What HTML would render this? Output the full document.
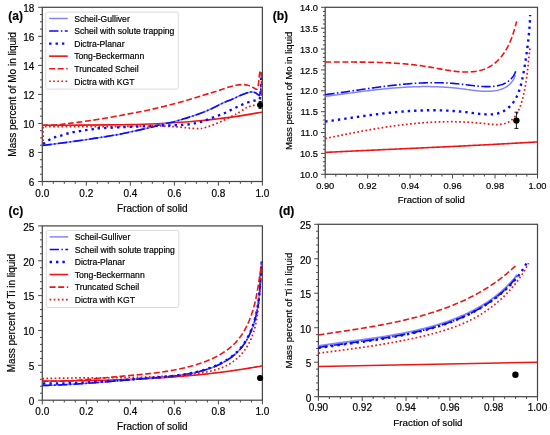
<!DOCTYPE html>
<html><head><meta charset="utf-8"><title>Solidification plots</title>
<style>html,body{margin:0;padding:0;background:#fff;}svg{display:block;filter:blur(0.4px);}text{font-family:"Liberation Sans",sans-serif;stroke:#000;stroke-width:0.18px;paint-order:fill;}</style>
</head><body>
<svg width="550" height="435" viewBox="0 0 550 435" font-family="Liberation Sans, sans-serif">
<rect width="550" height="435" fill="#fff"/>
<rect x="42.30" y="7.30" width="220.10" height="174.20" fill="none" stroke="#484848" stroke-width="1.25"/>
<path d="M42.30,181.50V185.70M86.32,181.50V185.70M130.34,181.50V185.70M174.36,181.50V185.70M218.38,181.50V185.70M262.40,181.50V185.70M53.30,181.50V183.80M64.31,181.50V183.80M75.31,181.50V183.80M97.32,181.50V183.80M108.33,181.50V183.80M119.33,181.50V183.80M141.34,181.50V183.80M152.35,181.50V183.80M163.35,181.50V183.80M185.36,181.50V183.80M196.37,181.50V183.80M207.38,181.50V183.80M229.38,181.50V183.80M240.39,181.50V183.80M251.39,181.50V183.80M42.30,181.50H38.10M42.30,152.47H38.10M42.30,123.43H38.10M42.30,94.40H38.10M42.30,65.37H38.10M42.30,36.33H38.10M42.30,7.30H38.10M42.30,174.24H40.00M42.30,166.98H40.00M42.30,159.72H40.00M42.30,145.21H40.00M42.30,137.95H40.00M42.30,130.69H40.00M42.30,116.17H40.00M42.30,108.92H40.00M42.30,101.66H40.00M42.30,87.14H40.00M42.30,79.88H40.00M42.30,72.62H40.00M42.30,58.11H40.00M42.30,50.85H40.00M42.30,43.59H40.00M42.30,29.08H40.00M42.30,21.82H40.00M42.30,14.56H40.00" stroke="#484848" stroke-width="1" fill="none"/>
<text x="42.30" y="196.60" font-size="10" text-anchor="middle" fill="#000">0.0</text>
<text x="86.32" y="196.60" font-size="10" text-anchor="middle" fill="#000">0.2</text>
<text x="130.34" y="196.60" font-size="10" text-anchor="middle" fill="#000">0.4</text>
<text x="174.36" y="196.60" font-size="10" text-anchor="middle" fill="#000">0.6</text>
<text x="218.38" y="196.60" font-size="10" text-anchor="middle" fill="#000">0.8</text>
<text x="262.40" y="196.60" font-size="10" text-anchor="middle" fill="#000">1.0</text>
<text x="34.30" y="186.30" font-size="10" text-anchor="end" fill="#000">6</text>
<text x="34.30" y="157.27" font-size="10" text-anchor="end" fill="#000">8</text>
<text x="34.30" y="128.23" font-size="10" text-anchor="end" fill="#000">10</text>
<text x="34.30" y="99.20" font-size="10" text-anchor="end" fill="#000">12</text>
<text x="34.30" y="70.17" font-size="10" text-anchor="end" fill="#000">14</text>
<text x="34.30" y="41.13" font-size="10" text-anchor="end" fill="#000">16</text>
<text x="34.30" y="12.10" font-size="10" text-anchor="end" fill="#000">18</text>
<text x="152.35" y="212.20" font-size="10" text-anchor="middle" fill="#000">Fraction of solid</text>
<text x="15.80" y="94.40" font-size="10" text-anchor="middle" fill="#000" transform="rotate(-90 15.80 94.40)">Mass percent of Mo in liquid</text>
<text x="8.30" y="20.00" font-size="12" text-anchor="start" font-weight="bold" fill="#000">(a)</text>
<rect x="325.20" y="7.30" width="212.30" height="167.00" fill="none" stroke="#484848" stroke-width="1.25"/>
<path d="M325.20,174.30V178.50M367.66,174.30V178.50M410.12,174.30V178.50M452.58,174.30V178.50M495.04,174.30V178.50M537.50,174.30V178.50M335.81,174.30V176.60M346.43,174.30V176.60M357.05,174.30V176.60M378.28,174.30V176.60M388.89,174.30V176.60M399.51,174.30V176.60M420.74,174.30V176.60M431.35,174.30V176.60M441.97,174.30V176.60M463.20,174.30V176.60M473.81,174.30V176.60M484.42,174.30V176.60M505.65,174.30V176.60M516.27,174.30V176.60M526.88,174.30V176.60M325.20,174.30H321.00M325.20,153.43H321.00M325.20,132.55H321.00M325.20,111.68H321.00M325.20,90.80H321.00M325.20,69.93H321.00M325.20,49.05H321.00M325.20,28.18H321.00M325.20,7.30H321.00M325.20,170.13H322.90M325.20,165.95H322.90M325.20,161.77H322.90M325.20,157.60H322.90M325.20,149.25H322.90M325.20,145.08H322.90M325.20,140.90H322.90M325.20,136.72H322.90M325.20,128.38H322.90M325.20,124.20H322.90M325.20,120.02H322.90M325.20,115.85H322.90M325.20,107.50H322.90M325.20,103.33H322.90M325.20,99.15H322.90M325.20,94.97H322.90M325.20,86.63H322.90M325.20,82.45H322.90M325.20,78.27H322.90M325.20,74.10H322.90M325.20,65.75H322.90M325.20,61.58H322.90M325.20,57.40H322.90M325.20,53.22H322.90M325.20,44.88H322.90M325.20,40.70H322.90M325.20,36.52H322.90M325.20,32.35H322.90M325.20,24.00H322.90M325.20,19.83H322.90M325.20,15.65H322.90M325.20,11.47H322.90" stroke="#484848" stroke-width="1" fill="none"/>
<text x="325.20" y="188.60" font-size="9.3" text-anchor="middle" fill="#000">0.90</text>
<text x="367.66" y="188.60" font-size="9.3" text-anchor="middle" fill="#000">0.92</text>
<text x="410.12" y="188.60" font-size="9.3" text-anchor="middle" fill="#000">0.94</text>
<text x="452.58" y="188.60" font-size="9.3" text-anchor="middle" fill="#000">0.96</text>
<text x="495.04" y="188.60" font-size="9.3" text-anchor="middle" fill="#000">0.98</text>
<text x="537.50" y="188.60" font-size="9.3" text-anchor="middle" fill="#000">1.00</text>
<text x="318.00" y="177.95" font-size="9.3" text-anchor="end" fill="#000">10.0</text>
<text x="318.00" y="157.07" font-size="9.3" text-anchor="end" fill="#000">10.5</text>
<text x="318.00" y="136.20" font-size="9.3" text-anchor="end" fill="#000">11.0</text>
<text x="318.00" y="115.32" font-size="9.3" text-anchor="end" fill="#000">11.5</text>
<text x="318.00" y="94.45" font-size="9.3" text-anchor="end" fill="#000">12.0</text>
<text x="318.00" y="73.57" font-size="9.3" text-anchor="end" fill="#000">12.5</text>
<text x="318.00" y="52.70" font-size="9.3" text-anchor="end" fill="#000">13.0</text>
<text x="318.00" y="31.82" font-size="9.3" text-anchor="end" fill="#000">13.5</text>
<text x="318.00" y="10.95" font-size="9.3" text-anchor="end" fill="#000">14.0</text>
<text x="431.35" y="203.00" font-size="9.5" text-anchor="middle" fill="#000">Fraction of solid</text>
<text x="291.90" y="90.80" font-size="9.5" text-anchor="middle" fill="#000" transform="rotate(-90 291.90 90.80)">Mass percent of Mo in liquid</text>
<text x="272.80" y="20.20" font-size="12" text-anchor="start" font-weight="bold" fill="#000">(b)</text>
<rect x="42.30" y="225.90" width="220.10" height="174.30" fill="none" stroke="#484848" stroke-width="1.25"/>
<path d="M42.30,400.20V404.40M86.32,400.20V404.40M130.34,400.20V404.40M174.36,400.20V404.40M218.38,400.20V404.40M262.40,400.20V404.40M53.30,400.20V402.50M64.31,400.20V402.50M75.31,400.20V402.50M97.32,400.20V402.50M108.33,400.20V402.50M119.33,400.20V402.50M141.34,400.20V402.50M152.35,400.20V402.50M163.35,400.20V402.50M185.36,400.20V402.50M196.37,400.20V402.50M207.38,400.20V402.50M229.38,400.20V402.50M240.39,400.20V402.50M251.39,400.20V402.50M42.30,400.20H38.10M42.30,365.34H38.10M42.30,330.48H38.10M42.30,295.62H38.10M42.30,260.76H38.10M42.30,225.90H38.10M42.30,393.23H40.00M42.30,386.26H40.00M42.30,379.28H40.00M42.30,372.31H40.00M42.30,358.37H40.00M42.30,351.40H40.00M42.30,344.42H40.00M42.30,337.45H40.00M42.30,323.51H40.00M42.30,316.54H40.00M42.30,309.56H40.00M42.30,302.59H40.00M42.30,288.65H40.00M42.30,281.68H40.00M42.30,274.70H40.00M42.30,267.73H40.00M42.30,253.79H40.00M42.30,246.82H40.00M42.30,239.84H40.00M42.30,232.87H40.00" stroke="#484848" stroke-width="1" fill="none"/>
<text x="42.30" y="414.60" font-size="10" text-anchor="middle" fill="#000">0.0</text>
<text x="86.32" y="414.60" font-size="10" text-anchor="middle" fill="#000">0.2</text>
<text x="130.34" y="414.60" font-size="10" text-anchor="middle" fill="#000">0.4</text>
<text x="174.36" y="414.60" font-size="10" text-anchor="middle" fill="#000">0.6</text>
<text x="218.38" y="414.60" font-size="10" text-anchor="middle" fill="#000">0.8</text>
<text x="262.40" y="414.60" font-size="10" text-anchor="middle" fill="#000">1.0</text>
<text x="34.30" y="405.00" font-size="10" text-anchor="end" fill="#000">0</text>
<text x="34.30" y="370.14" font-size="10" text-anchor="end" fill="#000">5</text>
<text x="34.30" y="335.28" font-size="10" text-anchor="end" fill="#000">10</text>
<text x="34.30" y="300.42" font-size="10" text-anchor="end" fill="#000">15</text>
<text x="34.30" y="265.56" font-size="10" text-anchor="end" fill="#000">20</text>
<text x="34.30" y="230.70" font-size="10" text-anchor="end" fill="#000">25</text>
<text x="152.35" y="429.60" font-size="10" text-anchor="middle" fill="#000">Fraction of solid</text>
<text x="15.30" y="313.05" font-size="10" text-anchor="middle" fill="#000" transform="rotate(-90 15.30 313.05)">Mass percent of Ti in liquid</text>
<text x="8.50" y="215.40" font-size="12" text-anchor="start" font-weight="bold" fill="#000">(c)</text>
<rect x="318.40" y="224.30" width="219.10" height="172.40" fill="none" stroke="#484848" stroke-width="1.25"/>
<path d="M318.40,396.70V400.90M362.22,396.70V400.90M406.04,396.70V400.90M449.86,396.70V400.90M493.68,396.70V400.90M537.50,396.70V400.90M329.35,396.70V399.00M340.31,396.70V399.00M351.26,396.70V399.00M373.18,396.70V399.00M384.13,396.70V399.00M395.09,396.70V399.00M417.00,396.70V399.00M427.95,396.70V399.00M438.91,396.70V399.00M460.82,396.70V399.00M471.77,396.70V399.00M482.72,396.70V399.00M504.63,396.70V399.00M515.59,396.70V399.00M526.54,396.70V399.00M318.40,396.70H314.20M318.40,362.22H314.20M318.40,327.74H314.20M318.40,293.26H314.20M318.40,258.78H314.20M318.40,224.30H314.20M318.40,389.80H316.10M318.40,382.91H316.10M318.40,376.01H316.10M318.40,369.12H316.10M318.40,355.32H316.10M318.40,348.43H316.10M318.40,341.53H316.10M318.40,334.64H316.10M318.40,320.84H316.10M318.40,313.95H316.10M318.40,307.05H316.10M318.40,300.16H316.10M318.40,286.36H316.10M318.40,279.47H316.10M318.40,272.57H316.10M318.40,265.68H316.10M318.40,251.88H316.10M318.40,244.99H316.10M318.40,238.09H316.10M318.40,231.20H316.10" stroke="#484848" stroke-width="1" fill="none"/>
<text x="318.40" y="411.00" font-size="10" text-anchor="middle" fill="#000">0.90</text>
<text x="362.22" y="411.00" font-size="10" text-anchor="middle" fill="#000">0.92</text>
<text x="406.04" y="411.00" font-size="10" text-anchor="middle" fill="#000">0.94</text>
<text x="449.86" y="411.00" font-size="10" text-anchor="middle" fill="#000">0.96</text>
<text x="493.68" y="411.00" font-size="10" text-anchor="middle" fill="#000">0.98</text>
<text x="537.50" y="411.00" font-size="10" text-anchor="middle" fill="#000">1.00</text>
<text x="311.20" y="401.50" font-size="10" text-anchor="end" fill="#000">0</text>
<text x="311.20" y="367.02" font-size="10" text-anchor="end" fill="#000">5</text>
<text x="311.20" y="332.54" font-size="10" text-anchor="end" fill="#000">10</text>
<text x="311.20" y="298.06" font-size="10" text-anchor="end" fill="#000">15</text>
<text x="311.20" y="263.58" font-size="10" text-anchor="end" fill="#000">20</text>
<text x="311.20" y="229.10" font-size="10" text-anchor="end" fill="#000">25</text>
<text x="427.95" y="426.00" font-size="9.8" text-anchor="middle" fill="#000">Fraction of solid</text>
<text x="291.90" y="310.50" font-size="9.8" text-anchor="middle" fill="#000" transform="rotate(-90 291.90 310.50)">Mass percent of Ti in liquid</text>
<text x="279.00" y="215.40" font-size="12" text-anchor="start" font-weight="bold" fill="#000">(d)</text>
<g clip-path="url(#ca)">
<path d="M42.30,125.30 C48.58,125.27 68.72,125.17 80.00,125.10 C91.28,125.03 101.67,124.98 110.00,124.90 C118.33,124.82 123.33,124.75 130.00,124.60 C136.67,124.45 144.17,124.22 150.00,124.00 C155.83,123.78 160.00,123.58 165.00,123.30 C170.00,123.02 174.17,122.73 180.00,122.30 C185.83,121.87 194.17,121.23 200.00,120.70 C205.83,120.17 209.17,119.78 215.00,119.10 C220.83,118.42 227.17,117.75 235.00,116.60 C242.83,115.45 257.50,112.93 262.00,112.20" fill="none" stroke="#f01414" stroke-width="1.6"/>
<path d="M42.30,145.50 C45.25,145.13 53.38,144.18 60.00,143.30 C66.62,142.42 75.33,141.15 82.00,140.20 C88.67,139.25 93.33,138.68 100.00,137.60 C106.67,136.52 113.67,135.37 122.00,133.70 C130.33,132.03 143.67,129.10 150.00,127.60 C156.33,126.10 156.33,125.58 160.00,124.70 C163.67,123.82 168.17,123.23 172.00,122.30 C175.83,121.37 179.75,120.08 183.00,119.10 C186.25,118.12 188.67,117.33 191.50,116.40 C194.33,115.47 196.67,114.78 200.00,113.50 C203.33,112.22 207.67,110.45 211.50,108.70 C215.33,106.95 219.55,104.58 223.00,103.00 C226.45,101.42 229.17,100.53 232.20,99.20 C235.23,97.87 238.90,96.00 241.20,95.00 C243.50,94.00 244.62,93.67 246.00,93.20 C247.38,92.73 248.42,92.42 249.50,92.20 C250.58,91.98 251.50,91.80 252.50,91.90 C253.50,92.00 254.58,92.35 255.50,92.80 C256.42,93.25 257.32,94.20 258.00,94.60 C258.68,95.00 259.17,95.80 259.60,95.20 C260.03,94.60 260.35,92.87 260.60,91.00 C260.85,89.13 261.02,85.17 261.10,84.00" fill="none" stroke="#8585f6" stroke-width="1.5"/>
<path d="M42.30,145.50 C45.25,145.13 53.38,144.18 60.00,143.30 C66.62,142.42 75.33,141.15 82.00,140.20 C88.67,139.25 93.33,138.68 100.00,137.60 C106.67,136.52 113.67,135.37 122.00,133.70 C130.33,132.03 143.67,129.10 150.00,127.60 C156.33,126.10 156.33,125.58 160.00,124.70 C163.67,123.82 168.17,123.23 172.00,122.30 C175.83,121.37 179.75,120.08 183.00,119.10 C186.25,118.12 188.67,117.33 191.50,116.40 C194.33,115.47 196.67,114.78 200.00,113.50 C203.33,112.22 207.67,110.45 211.50,108.70 C215.33,106.95 219.55,104.58 223.00,103.00 C226.45,101.42 229.17,100.53 232.20,99.20 C235.23,97.87 238.90,96.00 241.20,95.00 C243.50,94.00 244.62,93.67 246.00,93.20 C247.38,92.73 248.42,92.42 249.50,92.20 C250.58,91.98 251.50,91.80 252.50,91.90 C253.50,92.00 254.58,92.35 255.50,92.80 C256.42,93.25 257.32,94.20 258.00,94.60 C258.68,95.00 259.17,95.80 259.60,95.20 C260.03,94.60 260.35,92.87 260.60,91.00 C260.85,89.13 261.02,85.17 261.10,84.00" fill="none" stroke="#0a0aff" stroke-width="1.6" stroke-dasharray="9.4,2.4,1.5,2.4"/>
<path d="M43.20,141.00 C43.20,138.83 42.82,130.40 43.20,128.00 C43.58,125.60 36.03,126.82 45.50,126.60 C54.97,126.38 82.58,126.80 100.00,126.70 C117.42,126.60 140.00,126.15 150.00,126.00 C160.00,125.85 156.50,125.72 160.00,125.80 C163.50,125.88 167.93,126.30 171.00,126.50 C174.07,126.70 175.95,126.80 178.40,127.00 C180.85,127.20 183.55,127.48 185.70,127.70 C187.85,127.92 189.15,128.15 191.30,128.30 C193.45,128.45 196.65,128.63 198.60,128.60 C200.55,128.57 200.85,128.60 203.00,128.10 C205.15,127.60 208.17,126.85 211.50,125.60 C214.83,124.35 219.37,122.30 223.00,120.60 C226.63,118.90 230.82,116.65 233.30,115.40 C235.78,114.15 236.05,114.18 237.90,113.10 C239.75,112.02 242.70,109.90 244.40,108.90 C246.10,107.90 246.87,107.63 248.10,107.10 C249.33,106.57 250.57,106.02 251.80,105.70 C253.03,105.38 254.18,105.45 255.50,105.20 C256.82,104.95 258.78,104.90 259.70,104.20 C260.62,103.50 260.78,101.53 261.00,101.00" fill="none" stroke="#f01414" stroke-width="1.7" stroke-dasharray="1.7,2.4"/>
<path d="M43.00,144.00 C43.80,143.47 46.00,141.87 47.80,140.80 C49.60,139.73 51.80,138.42 53.80,137.60 C55.80,136.78 57.73,136.52 59.80,135.90 C61.87,135.28 64.07,134.50 66.20,133.90 C68.33,133.30 70.45,132.73 72.60,132.30 C74.75,131.87 76.92,131.67 79.10,131.30 C81.28,130.93 83.50,130.43 85.70,130.10 C87.90,129.77 90.15,129.60 92.30,129.30 C94.45,129.00 93.15,128.67 98.60,128.30 C104.05,127.93 115.63,127.50 125.00,127.10 C134.37,126.70 145.80,126.25 154.80,125.90 C163.80,125.55 172.98,125.30 179.00,125.00 C185.02,124.70 187.87,124.48 190.90,124.10 C193.93,123.72 195.08,123.18 197.20,122.70 C199.32,122.22 201.48,121.88 203.60,121.20 C205.72,120.52 207.80,119.42 209.90,118.60 C212.00,117.78 214.10,117.05 216.20,116.30 C218.30,115.55 220.48,114.93 222.50,114.10 C224.52,113.27 226.27,112.30 228.30,111.30 C230.33,110.30 232.68,109.07 234.70,108.10 C236.72,107.13 238.38,106.38 240.40,105.50 C242.42,104.62 244.80,103.52 246.80,102.80 C248.80,102.08 250.80,101.65 252.40,101.20 C254.00,100.75 255.23,100.43 256.40,100.10 C257.57,99.77 258.70,100.22 259.40,99.20 C260.10,98.18 260.33,96.20 260.60,94.00 C260.87,91.80 260.92,88.67 261.00,86.00 C261.08,83.33 261.07,80.25 261.10,78.00 C261.13,75.75 261.18,73.42 261.20,72.50" fill="none" stroke="#0a0aff" stroke-width="2.4" stroke-dasharray="2.4,4.0"/>
<path d="M42.30,125.20 C44.42,125.17 51.22,125.22 55.00,125.00 C58.78,124.78 61.33,124.33 65.00,123.90 C68.67,123.47 71.62,123.13 77.00,122.40 C82.38,121.67 89.30,120.80 97.30,119.50 C105.30,118.20 116.22,116.23 125.00,114.60 C133.78,112.97 140.83,111.77 150.00,109.70 C159.17,107.63 171.17,104.60 180.00,102.20 C188.83,99.80 196.67,97.22 203.00,95.30 C209.33,93.38 213.67,92.08 218.00,90.70 C222.33,89.32 226.00,87.90 229.00,87.00 C232.00,86.10 233.83,85.70 236.00,85.30 C238.17,84.90 240.17,84.65 242.00,84.60 C243.83,84.55 245.50,84.68 247.00,85.00 C248.50,85.32 249.75,85.95 251.00,86.50 C252.25,87.05 253.53,87.85 254.50,88.30 C255.47,88.75 256.18,89.58 256.80,89.20 C257.42,88.82 257.83,87.87 258.20,86.00 C258.57,84.13 258.70,80.37 259.00,78.00 C259.30,75.63 259.68,72.88 260.00,71.80 C260.32,70.72 260.67,70.47 260.90,71.50 C261.13,72.53 261.30,75.25 261.40,78.00 C261.50,80.75 261.48,84.67 261.50,88.00 C261.52,91.33 261.50,96.33 261.50,98.00" fill="none" stroke="#f01414" stroke-width="1.6" stroke-dasharray="6,2.6"/>
</g>
<path d="M260.1,101.6V108.4M258.6,101.6H261.6M258.6,108.4H261.6" stroke="#000" stroke-width="0.9"/>
<circle cx="260.1" cy="105" r="3.0" fill="#000"/>
<path d="M325.20,152.40 L326.41,152.34 L327.61,152.28 L328.82,152.22 L330.03,152.16 L331.23,152.10 L332.44,152.05 L333.64,151.99 L334.85,151.93 L336.06,151.87 L337.26,151.81 L338.47,151.75 L339.68,151.70 L340.88,151.64 L342.09,151.58 L343.29,151.52 L344.50,151.47 L345.71,151.41 L346.91,151.35 L348.12,151.29 L349.33,151.24 L350.53,151.18 L351.74,151.12 L352.95,151.07 L354.15,151.01 L355.36,150.95 L356.56,150.90 L357.77,150.84 L358.98,150.78 L360.18,150.73 L361.39,150.67 L362.60,150.62 L363.80,150.56 L365.01,150.50 L366.22,150.45 L367.42,150.39 L368.63,150.34 L369.84,150.28 L371.04,150.23 L372.25,150.17 L373.46,150.11 L374.66,150.06 L375.87,150.00 L377.07,149.95 L378.28,149.89 L379.49,149.84 L380.69,149.78 L381.90,149.73 L383.11,149.67 L384.31,149.62 L385.52,149.56 L386.73,149.51 L387.93,149.45 L389.14,149.40 L390.35,149.34 L391.55,149.29 L392.76,149.23 L393.97,149.18 L395.17,149.12 L396.38,149.07 L397.58,149.01 L398.79,148.96 L400.00,148.90 L401.20,148.85 L402.41,148.79 L403.62,148.73 L404.82,148.68 L406.03,148.62 L407.24,148.57 L408.44,148.51 L409.65,148.46 L410.86,148.40 L412.06,148.35 L413.27,148.29 L414.48,148.24 L415.68,148.18 L416.89,148.13 L418.09,148.07 L419.30,148.02 L420.51,147.96 L421.71,147.90 L422.92,147.85 L424.13,147.79 L425.33,147.74 L426.54,147.68 L427.75,147.63 L428.95,147.57 L430.16,147.51 L431.37,147.46 L432.57,147.40 L433.78,147.34 L434.98,147.29 L436.19,147.23 L437.40,147.17 L438.60,147.12 L439.81,147.06 L441.02,147.00 L442.22,146.95 L443.43,146.89 L444.64,146.83 L445.84,146.78 L447.05,146.72 L448.26,146.66 L449.46,146.60 L450.67,146.54 L451.87,146.49 L453.08,146.43 L454.29,146.37 L455.49,146.31 L456.70,146.25 L457.91,146.20 L459.11,146.14 L460.32,146.08 L461.52,146.02 L462.73,145.96 L463.94,145.90 L465.14,145.84 L466.35,145.78 L467.56,145.72 L468.76,145.66 L469.97,145.60 L471.17,145.54 L472.38,145.48 L473.59,145.42 L474.79,145.36 L476.00,145.30 L477.21,145.24 L478.41,145.18 L479.62,145.12 L480.82,145.05 L482.03,144.99 L483.24,144.93 L484.44,144.87 L485.65,144.80 L486.85,144.74 L488.06,144.68 L489.27,144.62 L490.47,144.55 L491.68,144.49 L492.88,144.43 L494.09,144.36 L495.30,144.30 L496.50,144.23 L497.71,144.17 L498.92,144.11 L500.12,144.04 L501.33,143.97 L502.53,143.91 L503.74,143.84 L504.94,143.78 L506.15,143.71 L507.36,143.65 L508.56,143.58 L509.77,143.51 L510.97,143.45 L512.18,143.38 L513.39,143.31 L514.59,143.24 L515.80,143.17 L517.00,143.11 L518.21,143.04 L519.42,142.97 L520.62,142.90 L521.83,142.83 L523.03,142.76 L524.24,142.69 L525.44,142.62 L526.65,142.55 L527.86,142.48 L529.06,142.41 L530.27,142.34 L531.47,142.26 L532.68,142.19 L533.88,142.12 L535.09,142.05 L536.29,141.97 L537.50,141.90" fill="none" stroke="#f01414" stroke-width="1.6"/>
<path d="M325.20,96.40 L326.41,96.24 L327.62,96.08 L328.83,95.91 L330.04,95.75 L331.25,95.59 L332.46,95.42 L333.67,95.26 L334.88,95.09 L336.09,94.93 L337.30,94.76 L338.50,94.60 L339.71,94.43 L340.92,94.27 L342.12,94.10 L343.33,93.94 L344.53,93.78 L345.74,93.61 L346.94,93.45 L348.15,93.28 L349.35,93.12 L350.56,92.96 L351.76,92.80 L352.96,92.64 L354.17,92.48 L355.37,92.32 L356.57,92.16 L357.78,92.00 L358.98,91.85 L360.18,91.69 L361.38,91.54 L362.59,91.38 L363.79,91.23 L364.99,91.08 L366.19,90.93 L367.39,90.78 L368.59,90.64 L369.79,90.49 L371.00,90.35 L372.20,90.21 L373.40,90.07 L374.60,89.93 L375.80,89.79 L377.00,89.66 L378.20,89.53 L379.40,89.40 L380.60,89.27 L381.81,89.14 L383.01,89.02 L384.21,88.90 L385.41,88.78 L386.61,88.66 L387.81,88.55 L389.01,88.44 L390.22,88.33 L391.42,88.22 L392.62,88.12 L393.82,88.02 L395.02,87.92 L396.23,87.83 L397.43,87.73 L398.63,87.65 L399.83,87.56 L401.04,87.48 L402.24,87.40 L403.45,87.32 L404.65,87.25 L405.85,87.18 L407.06,87.12 L408.26,87.05 L409.47,86.99 L410.67,86.94 L411.88,86.89 L413.09,86.84 L414.29,86.80 L415.50,86.76 L416.71,86.72 L417.92,86.69 L419.12,86.66 L420.33,86.64 L421.54,86.62 L422.75,86.61 L423.96,86.60 L425.17,86.59 L426.38,86.59 L427.59,86.59 L428.81,86.60 L430.02,86.62 L431.23,86.63 L432.44,86.65 L433.66,86.68 L434.87,86.71 L436.09,86.75 L437.30,86.79 L438.52,86.84 L439.74,86.89 L440.96,86.95 L442.17,87.01 L443.39,87.08 L444.61,87.15 L445.83,87.23 L447.05,87.32 L448.28,87.41 L449.50,87.50 L450.72,87.61 L451.95,87.71 L453.17,87.83 L454.40,87.95 L455.62,88.07 L456.85,88.20 L458.08,88.34 L459.30,88.48 L460.53,88.63 L461.76,88.79 L462.99,88.95 L464.23,89.11 L465.46,89.28 L466.69,89.45 L467.92,89.62 L469.15,89.79 L470.38,89.96 L471.61,90.12 L472.84,90.27 L474.06,90.43 L475.29,90.57 L476.51,90.70 L477.73,90.83 L478.95,90.94 L480.17,91.04 L481.38,91.13 L482.59,91.20 L483.80,91.26 L485.01,91.29 L486.21,91.31 L487.40,91.31 L488.60,91.29 L489.79,91.24 L490.97,91.17 L492.15,91.07 L493.32,90.95 L494.49,90.80 L495.66,90.62 L496.81,90.41 L497.96,90.16 L499.09,89.88 L500.21,89.56 L501.31,89.21 L502.39,88.81 L503.45,88.36 L504.49,87.87 L505.51,87.34 L506.50,86.75 L507.45,86.11 L508.38,85.42 L509.27,84.67 L510.12,83.87 L510.93,83.00 L511.69,82.07 L512.41,81.08 L513.08,80.03 L513.70,78.90 L514.26,77.71 L514.77,76.44 L515.21,75.10" fill="none" stroke="#8585f6" stroke-width="1.5"/>
<path d="M325.20,94.60 L326.41,94.45 L327.62,94.30 L328.83,94.15 L330.03,94.00 L331.24,93.84 L332.45,93.68 L333.66,93.52 L334.86,93.36 L336.07,93.20 L337.27,93.03 L338.48,92.87 L339.68,92.70 L340.89,92.53 L342.09,92.36 L343.30,92.19 L344.50,92.02 L345.70,91.85 L346.91,91.68 L348.11,91.50 L349.31,91.33 L350.52,91.16 L351.72,90.98 L352.92,90.81 L354.12,90.63 L355.32,90.45 L356.52,90.28 L357.73,90.10 L358.93,89.93 L360.13,89.75 L361.33,89.58 L362.53,89.40 L363.73,89.23 L364.93,89.05 L366.13,88.88 L367.33,88.71 L368.53,88.54 L369.73,88.36 L370.93,88.19 L372.13,88.02 L373.33,87.86 L374.53,87.69 L375.73,87.52 L376.93,87.36 L378.13,87.20 L379.33,87.04 L380.53,86.88 L381.73,86.72 L382.93,86.56 L384.13,86.41 L385.33,86.25 L386.53,86.10 L387.73,85.95 L388.93,85.81 L390.13,85.66 L391.33,85.52 L392.53,85.38 L393.73,85.25 L394.93,85.11 L396.14,84.98 L397.34,84.85 L398.54,84.73 L399.74,84.60 L400.94,84.48 L402.15,84.37 L403.35,84.25 L404.55,84.14 L405.76,84.04 L406.96,83.93 L408.16,83.83 L409.37,83.74 L410.57,83.64 L411.78,83.55 L412.98,83.47 L414.19,83.39 L415.39,83.31 L416.60,83.24 L417.81,83.17 L419.01,83.11 L420.22,83.05 L421.43,82.99 L422.64,82.94 L423.85,82.89 L425.06,82.85 L426.27,82.81 L427.48,82.78 L428.69,82.75 L429.90,82.73 L431.11,82.71 L432.32,82.70 L433.54,82.70 L434.75,82.69 L435.96,82.70 L437.18,82.71 L438.39,82.72 L439.61,82.75 L440.83,82.77 L442.04,82.81 L443.26,82.84 L444.48,82.89 L445.70,82.94 L446.92,83.00 L448.14,83.06 L449.36,83.13 L450.58,83.21 L451.80,83.29 L453.03,83.38 L454.25,83.48 L455.47,83.58 L456.70,83.69 L457.92,83.80 L459.15,83.93 L460.38,84.06 L461.61,84.20 L462.84,84.34 L464.07,84.49 L465.30,84.65 L466.53,84.80 L467.76,84.96 L468.99,85.12 L470.21,85.27 L471.44,85.43 L472.67,85.58 L473.89,85.72 L475.12,85.86 L476.34,85.99 L477.56,86.11 L478.78,86.23 L480.00,86.33 L481.21,86.42 L482.42,86.49 L483.63,86.55 L484.84,86.60 L486.04,86.62 L487.24,86.63 L488.43,86.62 L489.62,86.58 L490.81,86.53 L491.99,86.45 L493.17,86.34 L494.34,86.21 L495.51,86.05 L496.67,85.86 L497.82,85.64 L498.96,85.38 L500.09,85.09 L501.20,84.76 L502.29,84.39 L503.37,83.98 L504.42,83.52 L505.46,83.02 L506.46,82.47 L507.44,81.87 L508.39,81.22 L509.31,80.51 L510.19,79.74 L511.03,78.92 L511.83,78.04 L512.59,77.10 L513.30,76.09 L513.97,75.01 L514.59,73.87 L515.15,72.65 L515.66,71.36 L516.11,70.00" fill="none" stroke="#0a0aff" stroke-width="1.6" stroke-dasharray="9.4,2.4,1.5,2.4"/>
<path d="M325.19,138.50 L326.39,138.25 L327.58,138.01 L328.78,137.76 L329.97,137.52 L331.17,137.27 L332.36,137.03 L333.55,136.78 L334.75,136.54 L335.94,136.30 L337.13,136.05 L338.32,135.81 L339.51,135.57 L340.70,135.33 L341.89,135.09 L343.08,134.85 L344.27,134.62 L345.46,134.38 L346.65,134.14 L347.84,133.91 L349.03,133.67 L350.22,133.44 L351.41,133.21 L352.59,132.98 L353.78,132.75 L354.97,132.52 L356.16,132.29 L357.34,132.07 L358.53,131.84 L359.72,131.62 L360.90,131.40 L362.09,131.18 L363.28,130.96 L364.46,130.74 L365.65,130.52 L366.84,130.31 L368.02,130.10 L369.21,129.89 L370.39,129.68 L371.58,129.47 L372.77,129.26 L373.95,129.06 L375.14,128.86 L376.33,128.66 L377.51,128.46 L378.70,128.27 L379.88,128.07 L381.07,127.88 L382.26,127.69 L383.44,127.50 L384.63,127.32 L385.82,127.14 L387.01,126.95 L388.19,126.78 L389.38,126.60 L390.57,126.43 L391.76,126.26 L392.94,126.09 L394.13,125.92 L395.32,125.76 L396.51,125.60 L397.70,125.44 L398.89,125.28 L400.08,125.13 L401.27,124.98 L402.46,124.83 L403.65,124.69 L404.84,124.55 L406.03,124.41 L407.23,124.27 L408.42,124.14 L409.61,124.01 L410.80,123.89 L412.00,123.76 L413.19,123.64 L414.39,123.53 L415.58,123.41 L416.78,123.30 L417.97,123.20 L419.17,123.09 L420.36,122.99 L421.56,122.90 L422.76,122.80 L423.96,122.71 L425.16,122.63 L426.36,122.54 L427.56,122.47 L428.76,122.39 L429.96,122.32 L431.16,122.25 L432.37,122.19 L433.57,122.13 L434.77,122.07 L435.98,122.02 L437.18,121.97 L438.39,121.93 L439.60,121.89 L440.81,121.85 L442.01,121.82 L443.22,121.79 L444.43,121.77 L445.64,121.75 L446.86,121.74 L448.07,121.73 L449.28,121.72 L450.50,121.72 L451.71,121.72 L452.93,121.73 L454.14,121.74 L455.36,121.76 L456.58,121.78 L457.80,121.81 L459.02,121.84 L460.24,121.87 L461.46,121.91 L462.69,121.96 L463.91,122.01 L465.14,122.06 L466.36,122.12 L467.59,122.19 L468.82,122.26 L470.05,122.33 L471.28,122.41 L472.51,122.50 L473.74,122.59 L474.98,122.68 L476.21,122.78 L477.45,122.89 L478.69,123.00 L479.92,123.12 L481.16,123.24 L482.41,123.37 L483.65,123.50 L484.89,123.64 L486.13,123.78 L487.37,123.91 L488.61,124.05 L489.85,124.17 L491.08,124.28 L492.30,124.38 L493.52,124.46 L494.72,124.51 L495.92,124.54 L497.11,124.55 L498.29,124.52 L499.45,124.45 L500.59,124.35 L501.73,124.21 L502.84,124.02 L503.94,123.78 L505.02,123.49 L506.07,123.14 L507.11,122.74 L508.12,122.27 L509.11,121.75 L510.07,121.15 L511.00,120.50 L511.90,119.78 L512.76,119.01 L513.57,118.19 L514.34,117.32 L515.08,116.40 L515.77,115.44 L516.43,114.43 L517.05,113.39 L517.64,112.32 L518.20,111.22 L518.72,110.09 L519.22,108.94 L519.70,107.76 L520.14,106.57 L520.57,105.37 L520.97,104.16 L521.36,102.94 L521.72,101.71 L522.08,100.49 L522.41,99.27 L522.73,98.05 L523.04,96.84 L523.34,95.64 L523.63,94.43 L523.90,93.23 L524.16,92.04 L524.42,90.85 L524.66,89.66 L524.89,88.47 L525.11,87.28 L525.32,86.10 L525.53,84.92 L525.72,83.74 L525.91,82.57 L526.09,81.39 L526.27,80.22 L526.43,79.04 L526.60,77.87 L526.75,76.69 L526.90,75.52 L527.05,74.35 L527.19,73.17 L527.33,72.00 L527.47,70.82 L527.60,69.65 L527.73,68.47 L527.86,67.29 L527.99,66.11 L528.11,64.92 L528.24,63.74 L528.36,62.55 L528.49,61.36 L528.61,60.16 L528.74,58.97 L528.87,57.76 L529.00,56.56 L529.13,55.35 L529.27,54.14 L529.41,52.92 L529.55,51.70 L529.70,50.47 L529.85,49.24 L530.01,48.00" fill="none" stroke="#f01414" stroke-width="1.7" stroke-dasharray="1.7,2.4"/>
<path d="M325.20,121.60 L326.38,121.43 L327.56,121.26 L328.74,121.09 L329.92,120.92 L331.11,120.75 L332.29,120.58 L333.48,120.41 L334.67,120.23 L335.86,120.06 L337.05,119.88 L338.24,119.71 L339.43,119.53 L340.63,119.36 L341.82,119.18 L343.02,119.00 L344.21,118.83 L345.41,118.65 L346.61,118.47 L347.81,118.30 L349.01,118.12 L350.21,117.94 L351.41,117.77 L352.62,117.59 L353.82,117.42 L355.02,117.24 L356.23,117.07 L357.43,116.90 L358.64,116.72 L359.85,116.55 L361.05,116.38 L362.26,116.21 L363.47,116.04 L364.67,115.87 L365.88,115.71 L367.09,115.54 L368.30,115.38 L369.51,115.21 L370.72,115.05 L371.93,114.89 L373.14,114.73 L374.34,114.58 L375.55,114.42 L376.76,114.27 L377.97,114.12 L379.18,113.97 L380.39,113.82 L381.60,113.67 L382.80,113.53 L384.01,113.39 L385.22,113.25 L386.43,113.11 L387.63,112.98 L388.84,112.85 L390.04,112.72 L391.25,112.59 L392.45,112.47 L393.66,112.35 L394.86,112.23 L396.06,112.11 L397.27,112.00 L398.47,111.89 L399.67,111.79 L400.87,111.68 L402.06,111.58 L403.26,111.49 L404.46,111.39 L405.66,111.30 L406.85,111.22 L408.05,111.14 L409.24,111.06 L410.43,110.98 L411.63,110.91 L412.82,110.84 L414.01,110.78 L415.21,110.71 L416.40,110.66 L417.59,110.60 L418.78,110.55 L419.98,110.51 L421.17,110.47 L422.36,110.43 L423.55,110.40 L424.74,110.37 L425.94,110.34 L427.13,110.32 L428.33,110.30 L429.52,110.29 L430.71,110.28 L431.91,110.28 L433.11,110.28 L434.30,110.29 L435.50,110.30 L436.70,110.31 L437.90,110.33 L439.10,110.35 L440.30,110.38 L441.50,110.41 L442.70,110.45 L443.91,110.49 L445.11,110.54 L446.32,110.59 L447.53,110.65 L448.74,110.71 L449.95,110.78 L451.16,110.85 L452.37,110.93 L453.59,111.01 L454.81,111.10 L456.03,111.20 L457.25,111.29 L458.47,111.40 L459.69,111.51 L460.92,111.62 L462.15,111.74 L463.38,111.87 L464.61,112.00 L465.85,112.14 L467.08,112.28 L468.32,112.43 L469.57,112.58 L470.81,112.74 L472.06,112.91 L473.30,113.08 L474.55,113.24 L475.80,113.41 L477.05,113.57 L478.29,113.72 L479.53,113.87 L480.77,114.01 L482.01,114.13 L483.24,114.24 L484.46,114.32 L485.68,114.39 L486.89,114.44 L488.09,114.47 L489.28,114.47 L490.47,114.44 L491.64,114.37 L492.80,114.28 L493.95,114.15 L495.09,113.99 L496.21,113.78 L497.32,113.53 L498.41,113.24 L499.49,112.91 L500.55,112.52 L501.60,112.09 L502.62,111.61 L503.63,111.08 L504.61,110.50 L505.58,109.88 L506.52,109.22 L507.43,108.52 L508.32,107.78 L509.19,107.01 L510.03,106.20 L510.84,105.35 L511.62,104.47 L512.38,103.56 L513.10,102.62 L513.79,101.66 L514.45,100.66 L515.07,99.64 L515.67,98.60 L516.24,97.54 L516.79,96.45 L517.31,95.35 L517.80,94.22 L518.27,93.08 L518.72,91.93 L519.14,90.76 L519.55,89.57 L519.93,88.38 L520.30,87.17 L520.65,85.95 L520.98,84.73 L521.30,83.50 L521.60,82.27 L521.89,81.03 L522.16,79.78 L522.43,78.54 L522.68,77.30 L522.93,76.06 L523.17,74.82 L523.40,73.58 L523.62,72.36 L523.84,71.13 L524.06,69.92 L524.27,68.71 L524.47,67.50 L524.67,66.30 L524.87,65.10 L525.06,63.91 L525.25,62.73 L525.44,61.54 L525.62,60.36 L525.79,59.18 L525.97,58.00 L526.14,56.83 L526.31,55.65 L526.48,54.48 L526.64,53.31 L526.80,52.13 L526.96,50.96 L527.12,49.79 L527.27,48.61 L527.42,47.44 L527.57,46.26 L527.72,45.08 L527.86,43.91 L528.00,42.73 L528.14,41.55 L528.27,40.37 L528.41,39.18 L528.53,38.00 L528.66,36.81 L528.78,35.62 L528.89,34.43 L529.01,33.24 L529.12,32.04 L529.22,30.85 L529.32,29.65 L529.42,28.44 L529.51,27.24 L529.60,26.03 L529.69,24.82 L529.77,23.60 L529.84,22.39 L529.92,21.16 L529.98,19.94 L530.04,18.71 L530.10,17.48 L530.15,16.24 L530.20,15.00" fill="none" stroke="#0a0aff" stroke-width="2.4" stroke-dasharray="2.4,4.0"/>
<path d="M325.20,62.00 L326.43,62.01 L327.65,62.01 L328.88,62.02 L330.10,62.02 L331.33,62.03 L332.55,62.03 L333.77,62.03 L334.99,62.04 L336.21,62.04 L337.43,62.04 L338.64,62.04 L339.86,62.04 L341.08,62.05 L342.29,62.05 L343.50,62.05 L344.72,62.05 L345.93,62.05 L347.14,62.05 L348.35,62.05 L349.56,62.06 L350.77,62.06 L351.98,62.06 L353.18,62.07 L354.39,62.07 L355.60,62.08 L356.80,62.08 L358.01,62.09 L359.21,62.10 L360.42,62.11 L361.62,62.12 L362.82,62.13 L364.03,62.14 L365.23,62.16 L366.43,62.17 L367.63,62.19 L368.83,62.21 L370.03,62.23 L371.23,62.25 L372.43,62.28 L373.63,62.30 L374.83,62.33 L376.03,62.36 L377.23,62.39 L378.43,62.43 L379.63,62.47 L380.82,62.51 L382.02,62.55 L383.22,62.59 L384.42,62.64 L385.61,62.69 L386.81,62.74 L388.01,62.80 L389.21,62.86 L390.41,62.92 L391.60,62.98 L392.80,63.05 L394.00,63.12 L395.20,63.19 L396.40,63.27 L397.59,63.35 L398.79,63.44 L399.99,63.53 L401.19,63.62 L402.39,63.71 L403.59,63.81 L404.79,63.92 L405.99,64.02 L407.19,64.14 L408.39,64.25 L409.59,64.37 L410.79,64.50 L411.99,64.63 L413.20,64.76 L414.40,64.90 L415.60,65.04 L416.81,65.19 L418.01,65.34 L419.22,65.49 L420.42,65.66 L421.63,65.82 L422.83,65.99 L424.04,66.17 L425.25,66.35 L426.46,66.54 L427.67,66.73 L428.88,66.93 L430.09,67.13 L431.30,67.34 L432.51,67.56 L433.73,67.77 L434.94,68.00 L436.16,68.22 L437.37,68.44 L438.59,68.67 L439.80,68.89 L441.02,69.11 L442.24,69.33 L443.45,69.55 L444.67,69.76 L445.89,69.97 L447.11,70.18 L448.32,70.37 L449.54,70.57 L450.76,70.75 L451.98,70.92 L453.19,71.08 L454.41,71.24 L455.63,71.38 L456.84,71.51 L458.06,71.63 L459.28,71.73 L460.49,71.82 L461.71,71.89 L462.92,71.95 L464.14,71.99 L465.35,72.01 L466.56,72.01 L467.77,71.99 L468.98,71.95 L470.19,71.90 L471.40,71.81 L472.60,71.71 L473.80,71.58 L474.99,71.43 L476.17,71.25 L477.34,71.04 L478.51,70.81 L479.67,70.55 L480.81,70.26 L481.94,69.94 L483.06,69.59 L484.17,69.21 L485.26,68.79 L486.34,68.35 L487.39,67.86 L488.43,67.35 L489.46,66.80 L490.46,66.21 L491.45,65.60 L492.41,64.95 L493.36,64.27 L494.29,63.56 L495.20,62.82 L496.09,62.05 L496.97,61.26 L497.82,60.44 L498.66,59.59 L499.48,58.72 L500.27,57.83 L501.05,56.91 L501.81,55.97 L502.55,55.01 L503.27,54.03 L503.98,53.03 L504.66,52.02 L505.32,50.98 L505.96,49.93 L506.59,48.86 L507.19,47.78 L507.78,46.69 L508.34,45.58 L508.89,44.46 L509.41,43.33 L509.92,42.19 L510.41,41.04 L510.89,39.88 L511.34,38.72 L511.79,37.55 L512.21,36.38 L512.62,35.21 L513.02,34.04 L513.40,32.87 L513.77,31.70 L514.13,30.53 L514.47,29.36 L514.81,28.20 L515.13,27.04 L515.44,25.90 L515.74,24.76 L516.03,23.63 L516.32,22.51 L516.59,21.40" fill="none" stroke="#f01414" stroke-width="1.6" stroke-dasharray="6,2.6"/>
<path d="M516.4,112.2V128.4M514.4,112.2H518.4M514.4,128.4H518.4" stroke="#000" stroke-width="0.9"/>
<circle cx="516.4" cy="120.6" r="3.2" fill="#000"/>
<path d="M42.30,381.10 L43.51,381.09 L44.71,381.09 L45.92,381.08 L47.12,381.07 L48.33,381.06 L49.53,381.05 L50.74,381.04 L51.94,381.03 L53.15,381.02 L54.36,381.01 L55.56,381.00 L56.77,380.99 L57.98,380.98 L59.18,380.97 L60.39,380.96 L61.60,380.95 L62.80,380.94 L64.01,380.92 L65.22,380.91 L66.42,380.90 L67.63,380.89 L68.84,380.87 L70.04,380.86 L71.25,380.84 L72.46,380.83 L73.66,380.81 L74.87,380.80 L76.08,380.78 L77.29,380.76 L78.49,380.75 L79.70,380.73 L80.91,380.71 L82.12,380.69 L83.32,380.67 L84.53,380.65 L85.74,380.63 L86.95,380.61 L88.15,380.59 L89.36,380.57 L90.57,380.54 L91.78,380.52 L92.98,380.50 L94.19,380.47 L95.40,380.45 L96.61,380.42 L97.81,380.40 L99.02,380.37 L100.23,380.34 L101.44,380.31 L102.65,380.28 L103.85,380.25 L105.06,380.22 L106.27,380.19 L107.48,380.16 L108.68,380.13 L109.89,380.09 L111.10,380.06 L112.31,380.03 L113.51,379.99 L114.72,379.95 L115.93,379.92 L117.14,379.88 L118.34,379.84 L119.55,379.80 L120.76,379.76 L121.97,379.72 L123.17,379.67 L124.38,379.63 L125.59,379.59 L126.80,379.54 L128.00,379.49 L129.21,379.45 L130.42,379.40 L131.62,379.35 L132.83,379.30 L134.04,379.25 L135.25,379.20 L136.45,379.14 L137.66,379.09 L138.87,379.03 L140.07,378.98 L141.28,378.92 L142.49,378.86 L143.69,378.80 L144.90,378.74 L146.10,378.68 L147.31,378.62 L148.52,378.56 L149.72,378.49 L150.93,378.42 L152.13,378.36 L153.34,378.29 L154.55,378.22 L155.75,378.15 L156.96,378.08 L158.16,378.01 L159.37,377.93 L160.57,377.86 L161.78,377.78 L162.98,377.70 L164.19,377.62 L165.39,377.54 L166.60,377.46 L167.80,377.38 L169.01,377.29 L170.21,377.21 L171.41,377.12 L172.62,377.03 L173.82,376.94 L175.03,376.85 L176.23,376.76 L177.43,376.67 L178.64,376.57 L179.84,376.47 L181.04,376.38 L182.25,376.28 L183.45,376.18 L184.65,376.07 L185.85,375.97 L187.06,375.86 L188.26,375.76 L189.46,375.65 L190.66,375.54 L191.86,375.43 L193.06,375.32 L194.27,375.20 L195.47,375.09 L196.67,374.97 L197.87,374.85 L199.07,374.73 L200.27,374.61 L201.47,374.48 L202.67,374.36 L203.87,374.23 L205.07,374.10 L206.27,373.97 L207.47,373.84 L208.67,373.71 L209.87,373.57 L211.07,373.44 L212.27,373.30 L213.46,373.16 L214.66,373.02 L215.86,372.87 L217.06,372.73 L218.26,372.58 L219.45,372.43 L220.65,372.28 L221.85,372.13 L223.04,371.97 L224.24,371.82 L225.44,371.66 L226.63,371.50 L227.83,371.34 L229.02,371.18 L230.22,371.01 L231.41,370.84 L232.61,370.67 L233.80,370.50 L235.00,370.33 L236.19,370.16 L237.39,369.98 L238.58,369.80 L239.77,369.62 L240.97,369.44 L242.16,369.25 L243.35,369.07 L244.55,368.88 L245.74,368.69 L246.93,368.50 L248.12,368.30 L249.31,368.10 L250.50,367.91 L251.70,367.71 L252.89,367.50 L254.08,367.30 L255.27,367.09 L256.46,366.88 L257.65,366.67 L258.84,366.46 L260.02,366.24 L261.21,366.02 L262.40,365.80" fill="none" stroke="#f01414" stroke-width="1.6"/>
<path d="M42.30,385.50 L43.51,385.47 L44.71,385.45 L45.92,385.42 L47.13,385.39 L48.33,385.36 L49.54,385.32 L50.75,385.28 L51.95,385.24 L53.16,385.20 L54.37,385.16 L55.57,385.11 L56.78,385.06 L57.99,385.01 L59.19,384.96 L60.40,384.90 L61.60,384.85 L62.81,384.79 L64.02,384.73 L65.22,384.67 L66.43,384.61 L67.64,384.54 L68.84,384.47 L70.05,384.41 L71.25,384.34 L72.46,384.26 L73.66,384.19 L74.87,384.12 L76.08,384.04 L77.28,383.96 L78.49,383.89 L79.69,383.81 L80.90,383.72 L82.10,383.64 L83.31,383.56 L84.51,383.47 L85.72,383.39 L86.92,383.30 L88.13,383.21 L89.33,383.12 L90.53,383.03 L91.74,382.94 L92.94,382.85 L94.15,382.76 L95.35,382.66 L96.55,382.57 L97.76,382.47 L98.96,382.38 L100.16,382.28 L101.37,382.18 L102.57,382.08 L103.77,381.98 L104.98,381.89 L106.18,381.79 L107.38,381.69 L108.58,381.58 L109.79,381.48 L110.99,381.38 L112.19,381.28 L113.39,381.18 L114.59,381.08 L115.79,380.97 L117.00,380.87 L118.20,380.77 L119.40,380.66 L120.60,380.56 L121.80,380.46 L123.00,380.36 L124.20,380.25 L125.40,380.15 L126.60,380.05 L127.80,379.94 L129.00,379.84 L130.20,379.74 L131.40,379.64 L132.59,379.54 L133.79,379.43 L134.99,379.33 L136.19,379.23 L137.39,379.13 L138.59,379.03 L139.78,378.93 L140.98,378.84 L142.18,378.74 L143.37,378.64 L144.57,378.54 L145.77,378.45 L146.96,378.35 L148.16,378.26 L149.35,378.17 L150.55,378.07 L151.75,377.98 L152.94,377.89 L154.14,377.80 L155.33,377.71 L156.52,377.61 L157.72,377.52 L158.91,377.43 L160.11,377.33 L161.30,377.23 L162.50,377.14 L163.69,377.03 L164.89,376.93 L166.08,376.82 L167.28,376.71 L168.47,376.60 L169.67,376.48 L170.86,376.36 L172.06,376.24 L173.26,376.11 L174.45,375.97 L175.65,375.83 L176.85,375.68 L178.05,375.53 L179.24,375.37 L180.44,375.21 L181.64,375.04 L182.84,374.86 L184.04,374.67 L185.25,374.48 L186.45,374.28 L187.65,374.07 L188.85,373.85 L190.06,373.62 L191.26,373.39 L192.47,373.14 L193.67,372.88 L194.88,372.62 L196.08,372.34 L197.29,372.06 L198.49,371.76 L199.68,371.46 L200.88,371.14 L202.07,370.81 L203.26,370.47 L204.45,370.12 L205.63,369.76 L206.80,369.39 L207.97,369.00 L209.14,368.60 L210.30,368.19 L211.45,367.77 L212.59,367.34 L213.73,366.89 L214.86,366.43 L215.98,365.95 L217.10,365.47 L218.20,364.97 L219.30,364.45 L220.38,363.92 L221.46,363.38 L222.52,362.82 L223.57,362.25 L224.61,361.66 L225.64,361.06 L226.66,360.44 L227.66,359.81 L228.65,359.16 L229.62,358.50 L230.59,357.82 L231.53,357.12 L232.46,356.41 L233.38,355.68 L234.28,354.93 L235.16,354.17 L236.03,353.39 L236.88,352.59 L237.71,351.78 L238.53,350.95 L239.32,350.10 L240.10,349.23 L240.86,348.34 L241.60,347.44 L242.32,346.52 L243.02,345.59 L243.71,344.63 L244.38,343.67 L245.03,342.69 L245.66,341.69 L246.28,340.68 L246.88,339.66 L247.46,338.63 L248.03,337.58 L248.58,336.52 L249.12,335.45 L249.64,334.37 L250.14,333.28 L250.63,332.17 L251.10,331.06 L251.56,329.94 L252.00,328.81 L252.43,327.67 L252.85,326.52 L253.25,325.37 L253.63,324.21 L254.00,323.04 L254.36,321.87 L254.71,320.69 L255.04,319.51 L255.36,318.32 L255.66,317.12 L255.96,315.93 L256.24,314.73 L256.51,313.53 L256.76,312.32 L257.01,311.11 L257.24,309.90 L257.46,308.70 L257.67,307.49 L257.87,306.27 L258.06,305.06 L258.24,303.85 L258.41,302.64 L258.57,301.43 L258.72,300.21 L258.87,299.00 L259.00,297.79 L259.13,296.57 L259.26,295.36 L259.37,294.15 L259.48,292.94 L259.58,291.72 L259.68,290.51 L259.77,289.30 L259.86,288.09 L259.95,286.88 L260.03,285.67 L260.10,284.47 L260.18,283.26 L260.25,282.05 L260.32,280.85 L260.39,279.65 L260.46,278.45 L260.52,277.25 L260.59,276.05 L260.65,274.85 L260.72,273.66 L260.79,272.47 L260.85,271.28 L260.92,270.09 L261.00,268.90 L261.07,267.72 L261.15,266.54 L261.23,265.36 L261.31,264.18 L261.40,263.01" fill="none" stroke="#8585f6" stroke-width="1.5"/>
<path d="M42.30,385.50 L43.51,385.47 L44.71,385.45 L45.92,385.42 L47.13,385.39 L48.33,385.36 L49.54,385.32 L50.75,385.28 L51.95,385.24 L53.16,385.20 L54.37,385.16 L55.57,385.11 L56.78,385.06 L57.99,385.01 L59.19,384.96 L60.40,384.90 L61.60,384.85 L62.81,384.79 L64.02,384.73 L65.22,384.67 L66.43,384.61 L67.64,384.54 L68.84,384.47 L70.05,384.41 L71.25,384.34 L72.46,384.26 L73.66,384.19 L74.87,384.12 L76.08,384.04 L77.28,383.96 L78.49,383.89 L79.69,383.81 L80.90,383.72 L82.10,383.64 L83.31,383.56 L84.51,383.47 L85.72,383.39 L86.92,383.30 L88.13,383.21 L89.33,383.12 L90.53,383.03 L91.74,382.94 L92.94,382.85 L94.15,382.76 L95.35,382.66 L96.55,382.57 L97.76,382.47 L98.96,382.38 L100.16,382.28 L101.37,382.18 L102.57,382.08 L103.77,381.98 L104.98,381.89 L106.18,381.79 L107.38,381.69 L108.58,381.58 L109.79,381.48 L110.99,381.38 L112.19,381.28 L113.39,381.18 L114.59,381.08 L115.79,380.97 L117.00,380.87 L118.20,380.77 L119.40,380.66 L120.60,380.56 L121.80,380.46 L123.00,380.36 L124.20,380.25 L125.40,380.15 L126.60,380.05 L127.80,379.94 L129.00,379.84 L130.20,379.74 L131.40,379.64 L132.59,379.54 L133.79,379.43 L134.99,379.33 L136.19,379.23 L137.39,379.13 L138.59,379.03 L139.78,378.93 L140.98,378.84 L142.18,378.74 L143.37,378.64 L144.57,378.54 L145.77,378.45 L146.96,378.35 L148.16,378.26 L149.35,378.17 L150.55,378.07 L151.75,377.98 L152.94,377.89 L154.14,377.80 L155.33,377.71 L156.52,377.61 L157.72,377.52 L158.91,377.43 L160.11,377.33 L161.30,377.23 L162.50,377.14 L163.69,377.03 L164.89,376.93 L166.08,376.82 L167.28,376.71 L168.47,376.60 L169.67,376.48 L170.86,376.36 L172.06,376.24 L173.26,376.11 L174.45,375.97 L175.65,375.83 L176.85,375.68 L178.05,375.53 L179.24,375.37 L180.44,375.21 L181.64,375.04 L182.84,374.86 L184.04,374.67 L185.25,374.48 L186.45,374.28 L187.65,374.07 L188.85,373.85 L190.06,373.62 L191.26,373.39 L192.47,373.14 L193.67,372.88 L194.88,372.62 L196.08,372.34 L197.29,372.06 L198.49,371.76 L199.68,371.46 L200.88,371.14 L202.07,370.81 L203.26,370.47 L204.45,370.12 L205.63,369.76 L206.80,369.39 L207.97,369.00 L209.14,368.60 L210.30,368.19 L211.45,367.77 L212.59,367.34 L213.73,366.89 L214.86,366.43 L215.98,365.95 L217.10,365.47 L218.20,364.97 L219.30,364.45 L220.38,363.92 L221.46,363.38 L222.52,362.82 L223.57,362.25 L224.61,361.66 L225.64,361.06 L226.66,360.44 L227.66,359.81 L228.65,359.16 L229.62,358.50 L230.59,357.82 L231.53,357.12 L232.46,356.41 L233.38,355.68 L234.28,354.93 L235.16,354.17 L236.03,353.39 L236.88,352.59 L237.71,351.78 L238.53,350.95 L239.32,350.10 L240.10,349.23 L240.86,348.34 L241.60,347.44 L242.32,346.52 L243.02,345.59 L243.71,344.63 L244.38,343.67 L245.03,342.69 L245.66,341.69 L246.28,340.68 L246.88,339.66 L247.46,338.63 L248.03,337.58 L248.58,336.52 L249.12,335.45 L249.64,334.37 L250.14,333.28 L250.63,332.17 L251.10,331.06 L251.56,329.94 L252.00,328.81 L252.43,327.67 L252.85,326.52 L253.25,325.37 L253.63,324.21 L254.00,323.04 L254.36,321.87 L254.71,320.69 L255.04,319.51 L255.36,318.32 L255.66,317.12 L255.96,315.93 L256.24,314.73 L256.51,313.53 L256.76,312.32 L257.01,311.11 L257.24,309.90 L257.46,308.70 L257.67,307.49 L257.87,306.27 L258.06,305.06 L258.24,303.85 L258.41,302.64 L258.57,301.43 L258.72,300.21 L258.87,299.00 L259.00,297.79 L259.13,296.57 L259.26,295.36 L259.37,294.15 L259.48,292.94 L259.58,291.72 L259.68,290.51 L259.77,289.30 L259.86,288.09 L259.95,286.88 L260.03,285.67 L260.10,284.47 L260.18,283.26 L260.25,282.05 L260.32,280.85 L260.39,279.65 L260.46,278.45 L260.52,277.25 L260.59,276.05 L260.65,274.85 L260.72,273.66 L260.79,272.47 L260.85,271.28 L260.92,270.09 L261.00,268.90 L261.07,267.72 L261.15,266.54 L261.23,265.36 L261.31,264.18 L261.40,263.01" fill="none" stroke="#0a0aff" stroke-width="1.6" stroke-dasharray="9.4,2.4,1.5,2.4"/>
<path d="M42.30,378.61 L43.52,378.57 L44.74,378.53 L45.96,378.49 L47.18,378.45 L48.40,378.42 L49.61,378.38 L50.83,378.35 L52.05,378.32 L53.26,378.29 L54.48,378.26 L55.69,378.24 L56.91,378.21 L58.12,378.19 L59.33,378.16 L60.54,378.14 L61.75,378.12 L62.97,378.10 L64.18,378.08 L65.39,378.06 L66.60,378.05 L67.80,378.03 L69.01,378.01 L70.22,378.00 L71.43,377.99 L72.64,377.97 L73.84,377.96 L75.05,377.95 L76.25,377.94 L77.46,377.93 L78.67,377.92 L79.87,377.91 L81.07,377.90 L82.28,377.89 L83.48,377.89 L84.69,377.88 L85.89,377.87 L87.09,377.87 L88.29,377.86 L89.50,377.85 L90.70,377.85 L91.90,377.84 L93.10,377.84 L94.30,377.83 L95.50,377.82 L96.70,377.82 L97.90,377.81 L99.11,377.81 L100.31,377.80 L101.51,377.79 L102.71,377.79 L103.91,377.78 L105.10,377.78 L106.30,377.77 L107.50,377.76 L108.70,377.75 L109.90,377.74 L111.10,377.74 L112.30,377.73 L113.50,377.72 L114.70,377.71 L115.90,377.69 L117.10,377.68 L118.30,377.67 L119.49,377.66 L120.69,377.64 L121.89,377.63 L123.09,377.61 L124.29,377.59 L125.49,377.58 L126.69,377.56 L127.89,377.54 L129.09,377.52 L130.29,377.50 L131.49,377.47 L132.69,377.45 L133.89,377.42 L135.09,377.40 L136.29,377.37 L137.49,377.34 L138.69,377.31 L139.89,377.28 L141.09,377.24 L142.29,377.21 L143.50,377.17 L144.70,377.13 L145.90,377.09 L147.10,377.05 L148.31,377.01 L149.51,376.97 L150.71,376.92 L151.92,376.87 L153.12,376.82 L154.33,376.77 L155.53,376.72 L156.74,376.66 L157.94,376.60 L159.15,376.54 L160.35,376.48 L161.56,376.42 L162.77,376.35 L163.98,376.28 L165.18,376.21 L166.39,376.14 L167.60,376.06 L168.81,375.99 L170.02,375.91 L171.23,375.83 L172.44,375.74 L173.66,375.65 L174.87,375.56 L176.08,375.47 L177.29,375.38 L178.51,375.28 L179.72,375.18 L180.94,375.08 L182.15,374.97 L183.37,374.86 L184.59,374.75 L185.81,374.64 L187.02,374.52 L188.24,374.40 L189.46,374.28 L190.68,374.15 L191.90,374.02 L193.13,373.89 L194.35,373.75 L195.57,373.61 L196.78,373.46 L198.00,373.30 L199.22,373.14 L200.43,372.97 L201.64,372.79 L202.85,372.60 L204.05,372.41 L205.25,372.20 L206.45,371.98 L207.64,371.75 L208.83,371.51 L210.01,371.25 L211.18,370.98 L212.35,370.70 L213.51,370.40 L214.66,370.09 L215.81,369.76 L216.95,369.42 L218.08,369.06 L219.20,368.68 L220.32,368.28 L221.42,367.86 L222.51,367.43 L223.60,366.97 L224.67,366.49 L225.73,365.99 L226.78,365.47 L227.82,364.93 L228.84,364.36 L229.86,363.77 L230.86,363.15 L231.84,362.51 L232.81,361.85 L233.77,361.15 L234.72,360.43 L235.64,359.69 L236.56,358.92 L237.45,358.13 L238.33,357.31 L239.20,356.47 L240.04,355.61 L240.87,354.73 L241.68,353.83 L242.47,352.91 L243.24,351.98 L243.99,351.02 L244.72,350.05 L245.42,349.06 L246.11,348.05 L246.78,347.03 L247.42,346.00 L248.04,344.95 L248.64,343.89 L249.21,342.82 L249.77,341.74 L250.30,340.65 L250.80,339.54 L251.29,338.43 L251.75,337.31 L252.20,336.18 L252.63,335.04 L253.03,333.90 L253.42,332.75 L253.79,331.59 L254.15,330.43 L254.49,329.27 L254.81,328.10 L255.11,326.93 L255.41,325.75 L255.68,324.57 L255.95,323.39 L256.20,322.21 L256.43,321.03 L256.66,319.84 L256.87,318.65 L257.08,317.46 L257.27,316.26 L257.45,315.07 L257.63,313.87 L257.79,312.67 L257.94,311.47 L258.09,310.27 L258.23,309.07 L258.37,307.87 L258.49,306.66 L258.61,305.46 L258.73,304.25 L258.84,303.05 L258.95,301.84 L259.05,300.63 L259.15,299.43 L259.25,298.22 L259.34,297.02 L259.44,295.81 L259.53,294.61 L259.62,293.40 L259.71,292.20 L259.81,290.99 L259.90,289.79 L259.99,288.59 L260.08,287.39 L260.17,286.19 L260.27,284.98 L260.36,283.78 L260.45,282.58 L260.54,281.38 L260.64,280.19 L260.73,278.99 L260.83,277.79 L260.92,276.59 L261.02,275.39 L261.11,274.19 L261.21,272.99 L261.31,271.80 L261.41,270.60 L261.51,269.40 L261.61,268.20 L261.71,267.00" fill="none" stroke="#f01414" stroke-width="1.7" stroke-dasharray="1.7,2.4"/>
<path d="M43.00,383.50 L44.21,383.51 L45.42,383.53 L46.63,383.54 L47.84,383.54 L49.05,383.55 L50.25,383.55 L51.46,383.55 L52.67,383.54 L53.88,383.54 L55.09,383.53 L56.30,383.51 L57.51,383.50 L58.72,383.48 L59.93,383.46 L61.13,383.44 L62.34,383.42 L63.55,383.39 L64.76,383.36 L65.97,383.33 L67.18,383.29 L68.38,383.26 L69.59,383.22 L70.80,383.18 L72.01,383.14 L73.22,383.09 L74.42,383.05 L75.63,383.00 L76.84,382.95 L78.05,382.90 L79.26,382.84 L80.46,382.79 L81.67,382.73 L82.88,382.67 L84.08,382.61 L85.29,382.55 L86.50,382.48 L87.71,382.42 L88.91,382.35 L90.12,382.28 L91.32,382.21 L92.53,382.14 L93.74,382.07 L94.94,381.99 L96.15,381.92 L97.35,381.84 L98.56,381.76 L99.77,381.68 L100.97,381.60 L102.18,381.52 L103.38,381.44 L104.59,381.36 L105.79,381.27 L107.00,381.19 L108.20,381.10 L109.40,381.02 L110.61,380.93 L111.81,380.84 L113.02,380.75 L114.22,380.67 L115.42,380.58 L116.63,380.49 L117.83,380.40 L119.03,380.30 L120.24,380.21 L121.44,380.12 L122.64,380.03 L123.84,379.94 L125.04,379.84 L126.25,379.75 L127.45,379.66 L128.65,379.56 L129.85,379.47 L131.05,379.37 L132.25,379.28 L133.45,379.19 L134.65,379.09 L135.85,379.00 L137.05,378.91 L138.25,378.81 L139.45,378.72 L140.65,378.63 L141.85,378.54 L143.05,378.44 L144.25,378.35 L145.45,378.26 L146.64,378.17 L147.84,378.08 L149.04,377.99 L150.24,377.90 L151.43,377.81 L152.63,377.73 L153.83,377.64 L155.02,377.55 L156.22,377.46 L157.42,377.37 L158.61,377.28 L159.81,377.19 L161.01,377.09 L162.20,376.99 L163.40,376.89 L164.59,376.79 L165.79,376.69 L166.99,376.58 L168.18,376.47 L169.38,376.35 L170.58,376.23 L171.78,376.10 L172.97,375.98 L174.17,375.84 L175.37,375.70 L176.57,375.55 L177.77,375.40 L178.97,375.24 L180.16,375.08 L181.36,374.90 L182.57,374.73 L183.77,374.54 L184.97,374.34 L186.17,374.14 L187.37,373.93 L188.58,373.71 L189.78,373.48 L190.98,373.24 L192.19,372.99 L193.39,372.73 L194.60,372.46 L195.80,372.19 L197.00,371.90 L198.20,371.60 L199.40,371.29 L200.60,370.97 L201.79,370.64 L202.98,370.29 L204.16,369.94 L205.34,369.57 L206.51,369.20 L207.68,368.81 L208.85,368.41 L210.01,367.99 L211.16,367.57 L212.30,367.13 L213.44,366.67 L214.57,366.21 L215.69,365.73 L216.80,365.24 L217.91,364.73 L219.00,364.22 L220.09,363.68 L221.16,363.13 L222.23,362.57 L223.28,362.00 L224.32,361.41 L225.35,360.80 L226.36,360.18 L227.37,359.54 L228.36,358.89 L229.33,358.23 L230.30,357.54 L231.24,356.85 L232.18,356.13 L233.10,355.40 L234.00,354.65 L234.88,353.89 L235.75,353.11 L236.60,352.31 L237.44,351.49 L238.25,350.66 L239.05,349.81 L239.83,348.94 L240.59,348.05 L241.33,347.15 L242.06,346.23 L242.77,345.30 L243.45,344.35 L244.13,343.38 L244.78,342.40 L245.42,341.40 L246.03,340.40 L246.64,339.37 L247.22,338.34 L247.79,337.29 L248.35,336.23 L248.89,335.16 L249.41,334.08 L249.91,332.99 L250.41,331.89 L250.88,330.77 L251.34,329.65 L251.79,328.52 L252.22,327.39 L252.64,326.24 L253.04,325.09 L253.43,323.93 L253.81,322.76 L254.17,321.59 L254.52,320.41 L254.86,319.22 L255.18,318.04 L255.49,316.84 L255.79,315.65 L256.08,314.45 L256.35,313.25 L256.62,312.04 L256.87,310.83 L257.11,309.63 L257.34,308.42 L257.55,307.21 L257.76,306.00 L257.96,304.79 L258.14,303.57 L258.32,302.36 L258.49,301.15 L258.65,299.94 L258.80,298.73 L258.95,297.51 L259.08,296.30 L259.21,295.09 L259.34,293.88 L259.45,292.67 L259.56,291.46 L259.67,290.24 L259.77,289.03 L259.87,287.82 L259.96,286.62 L260.05,285.41 L260.13,284.20 L260.21,282.99 L260.29,281.79 L260.37,280.58 L260.44,279.38 L260.51,278.18 L260.59,276.98 L260.66,275.78 L260.73,274.58 L260.80,273.38 L260.87,272.18 L260.94,270.99 L261.02,269.80 L261.09,268.61 L261.17,267.42 L261.25,266.23 L261.33,265.05 L261.42,263.87 L261.51,262.69 L261.60,261.51" fill="none" stroke="#0a0aff" stroke-width="2.4" stroke-dasharray="2.4,4.0"/>
<path d="M42.30,381.10 L43.52,381.15 L44.73,381.19 L45.94,381.22 L47.16,381.25 L48.37,381.27 L49.58,381.29 L50.79,381.30 L52.01,381.30 L53.22,381.30 L54.43,381.30 L55.63,381.28 L56.84,381.27 L58.05,381.24 L59.26,381.22 L60.47,381.18 L61.67,381.15 L62.88,381.10 L64.09,381.06 L65.29,381.01 L66.50,380.95 L67.70,380.89 L68.91,380.83 L70.11,380.77 L71.31,380.70 L72.52,380.62 L73.72,380.54 L74.92,380.46 L76.12,380.38 L77.33,380.29 L78.53,380.21 L79.73,380.11 L80.93,380.02 L82.13,379.92 L83.33,379.82 L84.53,379.72 L85.73,379.62 L86.93,379.51 L88.13,379.41 L89.33,379.30 L90.53,379.19 L91.73,379.08 L92.93,378.96 L94.12,378.85 L95.32,378.73 L96.52,378.62 L97.72,378.50 L98.92,378.38 L100.12,378.27 L101.32,378.15 L102.51,378.03 L103.71,377.91 L104.91,377.79 L106.11,377.68 L107.31,377.56 L108.51,377.44 L109.70,377.33 L110.90,377.21 L112.10,377.10 L113.30,376.98 L114.50,376.87 L115.70,376.76 L116.90,376.65 L118.09,376.54 L119.29,376.43 L120.49,376.33 L121.69,376.22 L122.89,376.11 L124.09,376.01 L125.29,375.90 L126.49,375.80 L127.69,375.69 L128.89,375.59 L130.09,375.48 L131.29,375.38 L132.49,375.27 L133.69,375.16 L134.88,375.05 L136.08,374.95 L137.28,374.83 L138.48,374.72 L139.68,374.61 L140.88,374.49 L142.08,374.38 L143.28,374.26 L144.48,374.13 L145.67,374.01 L146.87,373.88 L148.07,373.76 L149.27,373.62 L150.47,373.49 L151.66,373.35 L152.86,373.21 L154.06,373.07 L155.25,372.92 L156.45,372.77 L157.65,372.62 L158.84,372.46 L160.04,372.29 L161.23,372.13 L162.43,371.96 L163.62,371.78 L164.82,371.60 L166.01,371.41 L167.21,371.22 L168.40,371.03 L169.59,370.83 L170.79,370.62 L171.98,370.41 L173.17,370.19 L174.36,369.97 L175.55,369.74 L176.74,369.51 L177.93,369.27 L179.12,369.02 L180.31,368.77 L181.50,368.50 L182.69,368.24 L183.88,367.96 L185.07,367.68 L186.25,367.39 L187.44,367.09 L188.63,366.79 L189.81,366.48 L191.00,366.16 L192.18,365.83 L193.36,365.49 L194.54,365.15 L195.72,364.80 L196.90,364.43 L198.07,364.06 L199.24,363.68 L200.41,363.29 L201.57,362.89 L202.73,362.48 L203.89,362.06 L205.04,361.63 L206.18,361.19 L207.32,360.74 L208.45,360.28 L209.57,359.80 L210.69,359.32 L211.80,358.82 L212.90,358.31 L214.00,357.80 L215.08,357.26 L216.16,356.72 L217.22,356.16 L218.28,355.59 L219.33,355.01 L220.36,354.42 L221.39,353.81 L222.40,353.19 L223.41,352.55 L224.40,351.90 L225.37,351.24 L226.34,350.56 L227.29,349.87 L228.23,349.16 L229.15,348.44 L230.06,347.70 L230.96,346.95 L231.84,346.18 L232.70,345.39 L233.55,344.59 L234.38,343.78 L235.19,342.95 L235.99,342.10 L236.77,341.23 L237.54,340.35 L238.28,339.45 L239.01,338.54 L239.72,337.61 L240.42,336.67 L241.10,335.72 L241.77,334.75 L242.42,333.76 L243.05,332.77 L243.67,331.76 L244.27,330.73 L244.86,329.70 L245.43,328.66 L245.99,327.60 L246.53,326.53 L247.06,325.46 L247.58,324.37 L248.08,323.27 L248.57,322.17 L249.05,321.05 L249.51,319.93 L249.96,318.80 L250.40,317.66 L250.83,316.51 L251.24,315.36 L251.64,314.20 L252.03,313.03 L252.41,311.86 L252.77,310.69 L253.13,309.50 L253.47,308.32 L253.80,307.13 L254.12,305.93 L254.44,304.74 L254.74,303.54 L255.03,302.33 L255.31,301.13 L255.58,299.92 L255.85,298.71 L256.10,297.50 L256.35,296.29 L256.59,295.08 L256.82,293.86 L257.04,292.65 L257.26,291.44 L257.47,290.22 L257.68,289.01 L257.88,287.80 L258.08,286.59 L258.27,285.38 L258.46,284.17 L258.65,282.97 L258.84,281.76 L259.02,280.56 L259.20,279.36 L259.38,278.17 L259.55,276.98 L259.73,275.79 L259.91,274.60 L260.09,273.42 L260.27,272.24 L260.45,271.07 L260.63,269.90 L260.81,268.74 L261.00,267.58 L261.19,266.43 L261.38,265.29 L261.58,264.15 L261.78,263.01" fill="none" stroke="#f01414" stroke-width="1.6" stroke-dasharray="6,2.6"/>
<circle cx="260.1" cy="378" r="3.1" fill="#000"/>
<path d="M318.40,366.50 L537.50,362.20" fill="none" stroke="#f01414" stroke-width="1.6"/>
<path d="M318.41,346.00 L319.56,345.82 L320.72,345.64 L321.88,345.46 L323.05,345.29 L324.21,345.11 L325.38,344.94 L326.55,344.76 L327.72,344.59 L328.89,344.42 L330.07,344.25 L331.24,344.08 L332.42,343.92 L333.60,343.75 L334.79,343.58 L335.97,343.42 L337.16,343.25 L338.34,343.09 L339.53,342.92 L340.72,342.76 L341.92,342.60 L343.11,342.43 L344.31,342.27 L345.50,342.11 L346.70,341.95 L347.90,341.78 L349.10,341.62 L350.30,341.46 L351.50,341.30 L352.70,341.13 L353.91,340.97 L355.11,340.81 L356.32,340.64 L357.53,340.48 L358.74,340.31 L359.94,340.14 L361.15,339.98 L362.36,339.81 L363.58,339.64 L364.79,339.47 L366.00,339.30 L367.21,339.13 L368.42,338.96 L369.64,338.78 L370.85,338.61 L372.06,338.43 L373.28,338.25 L374.49,338.07 L375.71,337.89 L376.92,337.71 L378.14,337.53 L379.35,337.34 L380.57,337.15 L381.78,336.96 L383.00,336.77 L384.21,336.58 L385.43,336.38 L386.64,336.19 L387.85,335.99 L389.07,335.78 L390.28,335.58 L391.49,335.37 L392.70,335.16 L393.92,334.95 L395.13,334.73 L396.34,334.52 L397.55,334.30 L398.76,334.07 L399.96,333.85 L401.17,333.62 L402.38,333.39 L403.58,333.15 L404.79,332.91 L405.99,332.67 L407.19,332.43 L408.39,332.18 L409.60,331.93 L410.79,331.67 L411.99,331.42 L413.19,331.15 L414.38,330.89 L415.58,330.62 L416.77,330.35 L417.96,330.07 L419.15,329.79 L420.34,329.50 L421.52,329.21 L422.71,328.92 L423.89,328.62 L425.07,328.32 L426.25,328.01 L427.43,327.70 L428.61,327.39 L429.78,327.07 L430.95,326.74 L432.12,326.41 L433.29,326.08 L434.45,325.74 L435.62,325.40 L436.78,325.05 L437.94,324.70 L439.09,324.34 L440.25,323.97 L441.40,323.60 L442.55,323.23 L443.69,322.85 L444.84,322.46 L445.98,322.07 L447.12,321.68 L448.26,321.27 L449.39,320.87 L450.52,320.45 L451.65,320.03 L452.77,319.61 L453.89,319.18 L455.01,318.74 L456.13,318.30 L457.24,317.85 L458.35,317.39 L459.46,316.93 L460.56,316.46 L461.66,315.98 L462.76,315.50 L463.85,315.01 L464.94,314.52 L466.03,314.02 L467.11,313.51 L468.19,312.99 L469.27,312.47 L470.34,311.94 L471.41,311.41 L472.48,310.86 L473.54,310.31 L474.59,309.75 L475.65,309.19 L476.70,308.62 L477.74,308.04 L478.78,307.45 L479.82,306.85 L480.85,306.25 L481.88,305.64 L482.90,305.02 L483.92,304.39 L484.93,303.76 L485.94,303.11 L486.95,302.46 L487.94,301.80 L488.94,301.13 L489.92,300.46 L490.91,299.77 L491.88,299.07 L492.85,298.37 L493.82,297.66 L494.77,296.94 L495.73,296.21 L496.67,295.47 L497.61,294.72 L498.54,293.96 L499.47,293.19 L500.39,292.41 L501.30,291.62 L502.21,290.83 L503.11,290.02 L504.00,289.20 L504.89,288.38 L505.76,287.54 L506.63,286.69 L507.50,285.83 L508.35,284.97 L509.20,284.09 L510.04,283.20 L510.87,282.30 L511.70,281.39 L512.51,280.47 L513.32,279.53 L514.12,278.59 L514.91,277.64 L515.69,276.67 L516.46,275.70 L517.23,274.71" fill="none" stroke="#8585f6" stroke-width="1.5" style="stroke-width:1.9px"/>
<path d="M318.41,347.50 L319.56,347.32 L320.72,347.14 L321.88,346.96 L323.05,346.79 L324.21,346.61 L325.38,346.44 L326.55,346.26 L327.72,346.09 L328.89,345.92 L330.07,345.75 L331.24,345.58 L332.42,345.42 L333.60,345.25 L334.79,345.08 L335.97,344.92 L337.16,344.75 L338.34,344.59 L339.53,344.42 L340.72,344.26 L341.92,344.10 L343.11,343.93 L344.31,343.77 L345.50,343.61 L346.70,343.45 L347.90,343.28 L349.10,343.12 L350.30,342.96 L351.50,342.80 L352.70,342.63 L353.91,342.47 L355.11,342.31 L356.32,342.14 L357.53,341.98 L358.74,341.81 L359.94,341.64 L361.15,341.48 L362.36,341.31 L363.58,341.14 L364.79,340.97 L366.00,340.80 L367.21,340.63 L368.42,340.46 L369.64,340.28 L370.85,340.11 L372.06,339.93 L373.28,339.75 L374.49,339.57 L375.71,339.39 L376.92,339.21 L378.14,339.03 L379.35,338.84 L380.57,338.65 L381.78,338.46 L383.00,338.27 L384.21,338.08 L385.43,337.88 L386.64,337.69 L387.85,337.49 L389.07,337.28 L390.28,337.08 L391.49,336.87 L392.70,336.66 L393.92,336.45 L395.13,336.23 L396.34,336.02 L397.55,335.80 L398.76,335.57 L399.96,335.35 L401.17,335.12 L402.38,334.89 L403.58,334.65 L404.79,334.41 L405.99,334.17 L407.19,333.93 L408.39,333.68 L409.60,333.43 L410.79,333.17 L411.99,332.92 L413.19,332.65 L414.38,332.39 L415.58,332.12 L416.77,331.85 L417.96,331.57 L419.15,331.29 L420.34,331.00 L421.52,330.71 L422.71,330.42 L423.89,330.12 L425.07,329.82 L426.25,329.51 L427.43,329.20 L428.61,328.89 L429.78,328.57 L430.95,328.24 L432.12,327.91 L433.29,327.58 L434.45,327.24 L435.62,326.90 L436.78,326.55 L437.94,326.20 L439.09,325.84 L440.25,325.47 L441.40,325.10 L442.55,324.73 L443.69,324.35 L444.84,323.96 L445.98,323.57 L447.12,323.18 L448.26,322.77 L449.39,322.37 L450.52,321.95 L451.65,321.53 L452.77,321.11 L453.89,320.68 L455.01,320.24 L456.13,319.80 L457.24,319.35 L458.35,318.89 L459.46,318.43 L460.56,317.96 L461.66,317.48 L462.76,317.00 L463.85,316.51 L464.94,316.02 L466.03,315.52 L467.11,315.01 L468.19,314.49 L469.27,313.97 L470.34,313.44 L471.41,312.91 L472.48,312.36 L473.54,311.81 L474.59,311.25 L475.65,310.69 L476.70,310.12 L477.74,309.54 L478.78,308.95 L479.82,308.35 L480.85,307.75 L481.88,307.14 L482.90,306.52 L483.92,305.89 L484.93,305.26 L485.94,304.61 L486.95,303.96 L487.94,303.30 L488.94,302.63 L489.92,301.96 L490.91,301.27 L491.88,300.57 L492.85,299.87 L493.82,299.16 L494.77,298.44 L495.73,297.71 L496.67,296.97 L497.61,296.22 L498.54,295.46 L499.47,294.69 L500.39,293.91 L501.30,293.12 L502.21,292.33 L503.11,291.52 L504.00,290.70 L504.89,289.88 L505.76,289.04 L506.63,288.19 L507.50,287.33 L508.35,286.47 L509.20,285.59 L510.04,284.70 L510.87,283.80 L511.70,282.89 L512.51,281.97 L513.32,281.03 L514.12,280.09 L514.91,279.14 L515.69,278.17 L516.46,277.20 L517.23,276.21" fill="none" stroke="#0a0aff" stroke-width="1.6" stroke-dasharray="9.4,2.4,1.5,2.4"/>
<path d="M318.40,353.20 L319.60,353.05 L320.79,352.90 L321.99,352.75 L323.18,352.60 L324.38,352.45 L325.58,352.30 L326.77,352.15 L327.97,352.00 L329.17,351.85 L330.36,351.70 L331.56,351.55 L332.76,351.39 L333.95,351.24 L335.15,351.09 L336.34,350.93 L337.54,350.78 L338.74,350.62 L339.93,350.47 L341.13,350.31 L342.33,350.15 L343.52,349.99 L344.72,349.83 L345.91,349.68 L347.11,349.51 L348.31,349.35 L349.50,349.19 L350.70,349.03 L351.89,348.86 L353.09,348.70 L354.28,348.53 L355.48,348.36 L356.68,348.20 L357.87,348.03 L359.07,347.85 L360.26,347.68 L361.46,347.51 L362.65,347.34 L363.84,347.16 L365.04,346.98 L366.23,346.80 L367.43,346.63 L368.62,346.44 L369.81,346.26 L371.01,346.08 L372.20,345.89 L373.39,345.71 L374.59,345.52 L375.78,345.33 L376.97,345.14 L378.16,344.94 L379.36,344.75 L380.55,344.55 L381.74,344.35 L382.93,344.15 L384.12,343.95 L385.31,343.75 L386.50,343.54 L387.69,343.33 L388.88,343.12 L390.07,342.91 L391.26,342.70 L392.45,342.48 L393.64,342.27 L394.83,342.05 L396.01,341.82 L397.20,341.60 L398.39,341.37 L399.58,341.15 L400.76,340.92 L401.95,340.68 L403.13,340.45 L404.32,340.21 L405.50,339.97 L406.69,339.73 L407.87,339.49 L409.06,339.24 L410.24,338.99 L411.42,338.74 L412.61,338.48 L413.79,338.23 L414.97,337.97 L416.15,337.71 L417.33,337.44 L418.51,337.17 L419.69,336.90 L420.87,336.63 L422.05,336.36 L423.23,336.08 L424.41,335.80 L425.59,335.51 L426.76,335.22 L427.94,334.93 L429.12,334.64 L430.29,334.34 L431.46,334.04 L432.63,333.73 L433.80,333.42 L434.97,333.11 L436.14,332.79 L437.31,332.46 L438.47,332.13 L439.63,331.80 L440.79,331.46 L441.95,331.12 L443.11,330.77 L444.26,330.41 L445.41,330.05 L446.56,329.69 L447.71,329.31 L448.85,328.93 L450.00,328.55 L451.13,328.16 L452.27,327.76 L453.40,327.35 L454.53,326.94 L455.66,326.52 L456.78,326.10 L457.90,325.66 L459.02,325.22 L460.13,324.77 L461.24,324.31 L462.35,323.85 L463.45,323.38 L464.55,322.89 L465.64,322.40 L466.73,321.90 L467.82,321.40 L468.90,320.88 L469.98,320.35 L471.05,319.82 L472.12,319.27 L473.18,318.72 L474.24,318.16 L475.29,317.58 L476.34,317.00 L477.38,316.41 L478.42,315.80 L479.46,315.19 L480.48,314.57 L481.51,313.94 L482.52,313.30 L483.54,312.65 L484.54,311.99 L485.54,311.32 L486.54,310.64 L487.53,309.95 L488.51,309.25 L489.49,308.55 L490.46,307.83 L491.42,307.10 L492.38,306.37 L493.34,305.63 L494.28,304.87 L495.22,304.11 L496.15,303.34 L497.08,302.56 L498.00,301.78 L498.91,300.98 L499.82,300.18 L500.72,299.36 L501.61,298.54 L502.49,297.71 L503.37,296.88 L504.24,296.03 L505.10,295.18 L505.95,294.32 L506.80,293.45 L507.64,292.58 L508.47,291.69 L509.29,290.80 L510.10,289.90 L510.91,289.00 L511.71,288.09 L512.49,287.17 L513.27,286.24 L514.04,285.31 L514.81,284.37 L515.56,283.42 L516.30,282.47 L517.04,281.51 L517.77,280.54 L518.48,279.57 L519.19,278.59 L519.89,277.60 L520.58,276.61 L521.26,275.61 L521.92,274.61 L522.58,273.60 L523.23,272.59 L523.87,271.56 L524.50,270.54 L525.12,269.51 L525.72,268.47 L526.32,267.43 L526.91,266.38 L527.48,265.33 L528.05,264.27 L528.60,263.20" fill="none" stroke="#f01414" stroke-width="1.7" stroke-dasharray="1.7,2.4"/>
<path d="M318.41,348.00 L319.56,347.82 L320.71,347.65 L321.86,347.48 L323.02,347.30 L324.18,347.13 L325.34,346.96 L326.50,346.79 L327.67,346.62 L328.83,346.46 L330.00,346.29 L331.17,346.12 L332.35,345.96 L333.52,345.80 L334.70,345.63 L335.88,345.47 L337.06,345.31 L338.24,345.14 L339.43,344.98 L340.61,344.82 L341.80,344.66 L342.99,344.50 L344.18,344.33 L345.37,344.17 L346.57,344.01 L347.76,343.85 L348.96,343.69 L350.15,343.52 L351.35,343.36 L352.55,343.20 L353.75,343.03 L354.96,342.87 L356.16,342.71 L357.36,342.54 L358.57,342.37 L359.77,342.21 L360.98,342.04 L362.19,341.87 L363.40,341.70 L364.61,341.53 L365.81,341.36 L367.02,341.19 L368.24,341.01 L369.45,340.84 L370.66,340.66 L371.87,340.48 L373.08,340.30 L374.29,340.12 L375.51,339.94 L376.72,339.75 L377.93,339.56 L379.15,339.38 L380.36,339.19 L381.57,338.99 L382.79,338.80 L384.00,338.60 L385.21,338.41 L386.42,338.20 L387.64,338.00 L388.85,337.80 L390.06,337.59 L391.27,337.38 L392.48,337.17 L393.69,336.95 L394.90,336.73 L396.11,336.51 L397.32,336.29 L398.53,336.06 L399.74,335.83 L400.94,335.60 L402.15,335.37 L403.35,335.13 L404.56,334.89 L405.76,334.64 L406.96,334.39 L408.16,334.14 L409.36,333.89 L410.56,333.63 L411.76,333.37 L412.95,333.10 L414.15,332.83 L415.34,332.56 L416.53,332.28 L417.72,332.00 L418.91,331.72 L420.10,331.43 L421.28,331.14 L422.47,330.84 L423.65,330.54 L424.83,330.23 L426.01,329.92 L427.18,329.61 L428.36,329.29 L429.53,328.97 L430.70,328.64 L431.87,328.31 L433.04,327.97 L434.20,327.63 L435.36,327.28 L436.52,326.93 L437.68,326.58 L438.84,326.21 L439.99,325.85 L441.14,325.48 L442.29,325.10 L443.43,324.72 L444.58,324.33 L445.72,323.94 L446.85,323.54 L447.99,323.13 L449.12,322.72 L450.25,322.31 L451.38,321.89 L452.50,321.46 L453.62,321.03 L454.74,320.59 L455.85,320.14 L456.96,319.69 L458.07,319.23 L459.17,318.77 L460.27,318.30 L461.37,317.82 L462.47,317.34 L463.56,316.85 L464.65,316.36 L465.73,315.86 L466.81,315.35 L467.89,314.83 L468.96,314.31 L470.03,313.78 L471.09,313.25 L472.16,312.70 L473.21,312.15 L474.27,311.60 L475.32,311.03 L476.36,310.46 L477.41,309.88 L478.44,309.30 L479.48,308.70 L480.51,308.10 L481.53,307.49 L482.55,306.88 L483.57,306.25 L484.58,305.62 L485.59,304.98 L486.59,304.34 L487.59,303.68 L488.58,303.02 L489.57,302.35 L490.56,301.67 L491.54,300.98 L492.51,300.28 L493.48,299.58 L494.45,298.87 L495.41,298.14 L496.36,297.42 L497.31,296.68 L498.26,295.93 L499.20,295.17 L500.13,294.41 L501.06,293.64 L501.98,292.86 L502.90,292.07 L503.81,291.27 L504.71,290.46 L505.61,289.64 L506.49,288.82 L507.37,287.98 L508.24,287.14 L509.11,286.29 L509.96,285.43 L510.80,284.56 L511.64,283.68 L512.47,282.79 L513.28,281.90 L514.09,280.99 L514.88,280.08 L515.67,279.15 L516.44,278.22 L517.21,277.28 L517.96,276.33 L518.70,275.37 L519.42,274.41 L520.14,273.43 L520.84,272.44 L521.53,271.45 L522.20,270.45 L522.86,269.43 L523.51,268.41 L524.15,267.38 L524.77,266.34 L525.37,265.29 L525.96,264.23 L526.53,263.17 L527.09,262.09 L527.64,261.00" fill="none" stroke="#0a0aff" stroke-width="2.4" stroke-dasharray="2.4,4.0"/>
<path d="M318.41,335.00 L319.58,334.83 L320.75,334.65 L321.93,334.47 L323.10,334.29 L324.28,334.12 L325.45,333.94 L326.63,333.76 L327.81,333.58 L328.99,333.41 L330.18,333.23 L331.36,333.05 L332.54,332.88 L333.73,332.70 L334.92,332.52 L336.10,332.34 L337.29,332.16 L338.48,331.98 L339.67,331.81 L340.86,331.63 L342.06,331.45 L343.25,331.26 L344.44,331.08 L345.64,330.90 L346.83,330.72 L348.03,330.53 L349.22,330.35 L350.42,330.16 L351.62,329.98 L352.82,329.79 L354.01,329.60 L355.21,329.41 L356.41,329.22 L357.61,329.03 L358.81,328.84 L360.01,328.64 L361.21,328.45 L362.41,328.25 L363.62,328.05 L364.82,327.85 L366.02,327.65 L367.22,327.45 L368.42,327.25 L369.62,327.04 L370.82,326.83 L372.03,326.62 L373.23,326.41 L374.43,326.20 L375.63,325.98 L376.83,325.77 L378.03,325.55 L379.23,325.33 L380.43,325.10 L381.63,324.88 L382.83,324.65 L384.03,324.42 L385.23,324.19 L386.43,323.96 L387.63,323.72 L388.82,323.48 L390.02,323.24 L391.22,323.00 L392.41,322.75 L393.61,322.50 L394.80,322.25 L395.99,321.99 L397.19,321.74 L398.38,321.48 L399.57,321.21 L400.76,320.95 L401.95,320.68 L403.14,320.41 L404.32,320.13 L405.51,319.86 L406.70,319.57 L407.88,319.29 L409.06,319.00 L410.24,318.71 L411.42,318.42 L412.60,318.12 L413.78,317.82 L414.96,317.52 L416.13,317.21 L417.31,316.90 L418.48,316.58 L419.65,316.26 L420.82,315.94 L421.99,315.61 L423.16,315.28 L424.32,314.95 L425.49,314.61 L426.65,314.27 L427.81,313.92 L428.97,313.58 L430.12,313.22 L431.28,312.86 L432.43,312.50 L433.58,312.13 L434.73,311.76 L435.88,311.39 L437.03,311.01 L438.17,310.62 L439.31,310.24 L440.45,309.84 L441.59,309.44 L442.72,309.04 L443.86,308.63 L444.99,308.22 L446.12,307.81 L447.24,307.39 L448.37,306.96 L449.49,306.53 L450.61,306.09 L451.72,305.65 L452.84,305.20 L453.95,304.75 L455.06,304.30 L456.17,303.83 L457.27,303.37 L458.37,302.89 L459.47,302.42 L460.57,301.93 L461.66,301.44 L462.75,300.95 L463.84,300.45 L464.93,299.94 L466.01,299.43 L467.09,298.92 L468.17,298.39 L469.24,297.87 L470.31,297.33 L471.38,296.79 L472.44,296.25 L473.50,295.69 L474.56,295.14 L475.62,294.57 L476.67,294.00 L477.72,293.42 L478.76,292.84 L479.80,292.25 L480.84,291.66 L481.88,291.06 L482.91,290.45 L483.94,289.83 L484.96,289.21 L485.99,288.58 L487.00,287.95 L488.02,287.31 L489.03,286.66 L490.04,286.01 L491.04,285.35 L492.04,284.68 L493.03,284.00 L494.03,283.32 L495.01,282.63 L496.00,281.94 L496.98,281.23 L497.96,280.52 L498.93,279.80 L499.90,279.08 L500.86,278.35 L501.82,277.61 L502.78,276.86 L503.73,276.11 L504.68,275.34 L505.62,274.58 L506.56,273.80 L507.50,273.01 L508.43,272.22 L509.35,271.42 L510.27,270.61 L511.19,269.80 L512.10,268.97 L513.01,268.14 L513.92,267.30 L514.82,266.46 L515.71,265.60" fill="none" stroke="#f01414" stroke-width="1.6" stroke-dasharray="6,2.6"/>
<circle cx="515.4" cy="374.8" r="3.2" fill="#000"/>
<rect x="45.80" y="12.10" width="132.50" height="77.00" rx="2" fill="#fff" fill-opacity="0.85" stroke="#d6d6d6" stroke-width="0.9"/>
<path d="M49.10,18.50H67.70" stroke="#8585f6" stroke-width="1.5" fill="none"/>
<text x="74.20" y="21.80" font-size="8.65" text-anchor="start" fill="#000">Scheil-Gulliver</text>
<path d="M49.10,31.05H67.70" stroke="#0a0aff" stroke-width="1.6" stroke-dasharray="9.4,2.4,1.5,2.4" fill="none"/>
<text x="74.20" y="34.35" font-size="8.65" text-anchor="start" fill="#000">Scheil with solute trapping</text>
<path d="M49.10,43.60H67.70" stroke="#0a0aff" stroke-width="2.4" stroke-dasharray="2.4,4.0" fill="none"/>
<text x="74.20" y="46.90" font-size="8.65" text-anchor="start" fill="#000">Dictra-Planar</text>
<path d="M49.10,56.15H67.70" stroke="#f01414" stroke-width="1.6" fill="none"/>
<text x="74.20" y="59.45" font-size="8.65" text-anchor="start" fill="#000">Tong-Beckermann</text>
<path d="M49.10,68.70H67.70" stroke="#f01414" stroke-width="1.6" stroke-dasharray="6,2.6" fill="none"/>
<text x="74.20" y="72.00" font-size="8.65" text-anchor="start" fill="#000">Truncated Scheil</text>
<path d="M49.10,81.25H67.70" stroke="#f01414" stroke-width="1.7" stroke-dasharray="1.7,2.4" fill="none"/>
<text x="74.20" y="84.55" font-size="8.65" text-anchor="start" fill="#000">Dictra with KGT</text>
<rect x="46.30" y="230.50" width="132.50" height="77.00" rx="2" fill="#fff" fill-opacity="0.85" stroke="#d6d6d6" stroke-width="0.9"/>
<path d="M49.60,236.90H68.20" stroke="#8585f6" stroke-width="1.5" fill="none"/>
<text x="74.70" y="240.20" font-size="8.65" text-anchor="start" fill="#000">Scheil-Gulliver</text>
<path d="M49.60,249.45H68.20" stroke="#0a0aff" stroke-width="1.6" stroke-dasharray="9.4,2.4,1.5,2.4" fill="none"/>
<text x="74.70" y="252.75" font-size="8.65" text-anchor="start" fill="#000">Scheil with solute trapping</text>
<path d="M49.60,262.00H68.20" stroke="#0a0aff" stroke-width="2.4" stroke-dasharray="2.4,4.0" fill="none"/>
<text x="74.70" y="265.30" font-size="8.65" text-anchor="start" fill="#000">Dictra-Planar</text>
<path d="M49.60,274.55H68.20" stroke="#f01414" stroke-width="1.6" fill="none"/>
<text x="74.70" y="277.85" font-size="8.65" text-anchor="start" fill="#000">Tong-Beckermann</text>
<path d="M49.60,287.10H68.20" stroke="#f01414" stroke-width="1.6" stroke-dasharray="6,2.6" fill="none"/>
<text x="74.70" y="290.40" font-size="8.65" text-anchor="start" fill="#000">Truncated Scheil</text>
<path d="M49.60,299.65H68.20" stroke="#f01414" stroke-width="1.7" stroke-dasharray="1.7,2.4" fill="none"/>
<text x="74.70" y="302.95" font-size="8.65" text-anchor="start" fill="#000">Dictra with KGT</text>
<defs><clipPath id="ca"><rect x="42.30" y="7.30" width="220.10" height="174.20"/></clipPath></defs>
</svg>
</body></html>
